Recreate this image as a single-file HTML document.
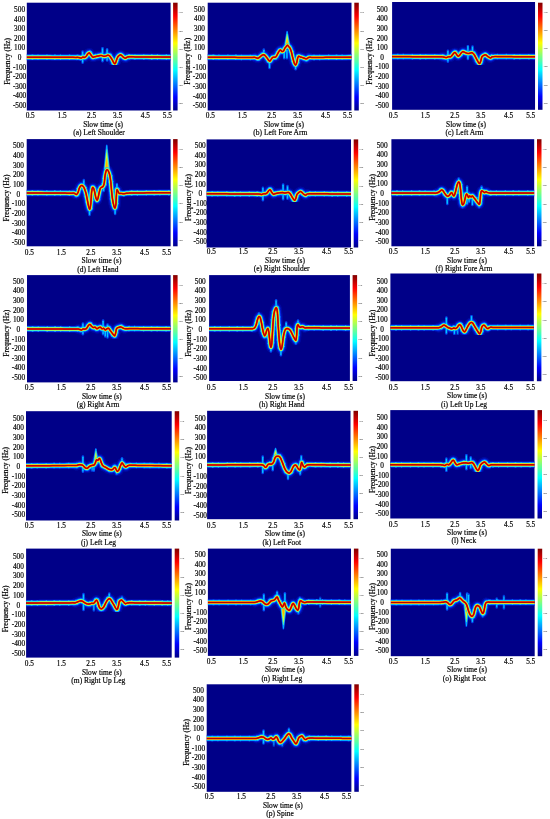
<!DOCTYPE html>
<html lang="en"><head><meta charset="utf-8"><title>Micro-Doppler spectrograms</title>
<style>html,body{margin:0;padding:0;background:#fff}svg{display:block}text{font-family:"Liberation Serif","DejaVu Serif",serif;fill:#000;stroke:#000;stroke-width:.17px}.cb text{fill:#787878;stroke:#787878;stroke-width:.1px;font-size:2.9px;text-anchor:middle}.t text{font-size:7.3px}.yt text{text-anchor:middle}.xt text{text-anchor:middle}.ridge{fill:none;stroke-linecap:round;stroke-linejoin:round}</style></head><body>
<svg width="550" height="819" viewBox="0 0 550 819">
<defs><linearGradient id="jet" x1="0" y1="0" x2="0" y2="1"><stop offset="0" stop-color="#800000"/><stop offset="0.125" stop-color="#ff0000"/><stop offset="0.375" stop-color="#ffff00"/><stop offset="0.5" stop-color="#80ff80"/><stop offset="0.625" stop-color="#00ffff"/><stop offset="0.875" stop-color="#0000ff"/><stop offset="1" stop-color="#000088"/></linearGradient><filter id="bl" x="-5%" y="-5%" width="110%" height="110%"><feGaussianBlur stdDeviation="0.35"/></filter>
<clipPath id="ca"><rect x="26.80" y="2.70" width="143.80" height="107.80"/></clipPath>
<path id="ra" d="M23.8 57.1C24.3 57.1 25.7 57.2 26.7 57.2C27.6 57.2 28.6 57.2 29.6 57.2C30.5 57.2 31.5 57.2 32.4 57.2C33.4 57.2 34.4 57.2 35.3 57.2C36.3 57.2 37.2 57.2 38.2 57.2C39.2 57.2 40.1 57.2 41.1 57.2C42.0 57.2 43.0 57.2 44.0 57.2C44.9 57.2 45.9 57.2 46.9 57.2C47.8 57.2 48.8 57.2 49.7 57.2C50.7 57.3 51.7 57.3 52.6 57.3C53.6 57.3 54.5 57.3 55.5 57.3C56.5 57.3 57.4 57.3 58.4 57.3C59.3 57.3 60.3 57.3 61.3 57.3C62.2 57.3 63.2 57.3 64.1 57.3C65.1 57.3 66.1 57.3 67.0 57.3C68.0 57.3 68.9 57.3 69.9 57.3C70.9 57.3 71.8 57.3 72.8 57.3C73.7 57.3 74.7 57.3 75.7 57.4C76.6 57.4 77.6 57.3 78.5 57.4C79.5 57.5 80.5 57.9 81.3 57.9C82.0 57.9 82.4 57.2 82.9 57.1C83.5 57.1 84.0 57.5 84.5 57.4C85.1 57.2 85.6 56.9 86.2 56.3C86.7 55.7 87.3 54.3 87.8 53.8C88.4 53.2 88.9 52.8 89.5 53.0C90.0 53.2 90.5 54.5 91.1 55.2C91.6 55.9 92.2 56.9 92.7 57.1C93.3 57.4 93.7 57.0 94.4 56.8C95.0 56.7 95.7 56.5 96.5 56.3C97.4 56.1 98.5 55.9 99.3 55.7C100.1 55.6 100.7 55.4 101.5 55.5C102.2 55.6 102.9 56.2 103.6 56.3C104.4 56.4 105.2 56.2 105.8 56.1C106.5 55.9 106.9 55.3 107.5 55.2C108.0 55.1 108.5 55.1 109.1 55.5C109.6 55.9 110.2 56.6 110.7 57.4C111.3 58.1 111.8 59.1 112.4 60.1C112.9 61.1 113.5 62.6 114.0 63.1C114.5 63.7 114.7 63.9 115.1 63.6C115.5 63.3 115.8 62.1 116.2 61.2C116.5 60.2 116.8 58.8 117.3 57.9C117.7 57.0 118.3 56.2 118.9 55.7C119.5 55.2 120.3 54.8 120.9 54.9C121.5 54.9 121.9 55.8 122.4 56.3C122.9 56.7 123.6 57.4 124.1 57.7C124.7 58.0 125.2 58.2 125.7 58.1C126.2 58.0 126.5 57.4 127.1 57.1C127.7 56.9 128.4 56.9 129.3 56.8C130.1 56.8 131.2 56.8 132.2 56.8C133.2 56.8 134.2 56.9 135.2 56.9C136.2 56.9 137.2 56.9 138.1 56.9C139.1 56.9 140.1 56.9 141.1 56.9C142.1 56.9 143.1 56.9 144.0 56.9C145.0 56.9 146.0 56.9 147.0 56.9C148.0 57.0 149.0 57.0 150.0 57.0C150.9 57.0 151.9 57.0 152.9 57.0C153.9 57.0 154.9 57.0 155.9 57.0C156.9 57.0 157.8 57.0 158.8 57.0C159.8 57.0 160.8 57.1 161.8 57.1C162.8 57.1 163.7 57.1 164.7 57.1C165.7 57.1 166.7 57.1 167.7 57.1C168.7 57.1 169.7 57.1 170.6 57.1C171.6 57.1 173.1 57.1 173.6 57.1"/>
<path id="ga" d="M84.5 57.4C84.8 57.2 85.6 56.9 86.2 56.3C86.7 55.7 87.3 54.3 87.8 53.8C88.4 53.2 88.9 52.8 89.5 53.0C90.0 53.2 90.5 54.5 91.1 55.2C91.6 55.9 92.2 56.9 92.7 57.1C93.3 57.4 93.7 57.0 94.4 56.8C95.0 56.7 95.7 56.5 96.5 56.3C97.4 56.1 98.5 55.9 99.3 55.7C100.1 55.6 100.7 55.4 101.5 55.5C102.2 55.6 102.9 56.2 103.6 56.3C104.4 56.4 105.2 56.2 105.8 56.1C106.5 55.9 106.9 55.3 107.5 55.2C108.0 55.1 108.5 55.1 109.1 55.5C109.6 55.9 110.2 56.6 110.7 57.4C111.3 58.1 111.8 59.1 112.4 60.1C112.9 61.1 113.5 62.6 114.0 63.1C114.5 63.7 114.7 63.9 115.1 63.6C115.5 63.3 115.8 62.1 116.2 61.2C116.5 60.2 116.8 58.8 117.3 57.9C117.7 57.0 118.3 56.2 118.9 55.7C119.5 55.2 120.3 54.8 120.9 54.9C121.5 54.9 121.9 55.8 122.4 56.3C122.9 56.7 123.6 57.4 124.1 57.7C124.7 58.0 125.2 58.2 125.7 58.1C126.2 58.0 126.9 57.3 127.1 57.1"/>
<clipPath id="cb"><rect x="207.70" y="2.70" width="143.80" height="107.80"/></clipPath>
<path id="rb" d="M204.7 57.2C205.2 57.2 206.7 57.2 207.7 57.2C208.7 57.2 209.7 57.2 210.6 57.2C211.6 57.2 212.6 57.2 213.6 57.2C214.6 57.3 215.6 57.3 216.6 57.3C217.6 57.3 218.6 57.3 219.6 57.3C220.6 57.3 221.6 57.3 222.5 57.3C223.5 57.3 224.5 57.3 225.5 57.3C226.5 57.3 227.5 57.3 228.5 57.3C229.5 57.3 230.5 57.3 231.5 57.3C232.5 57.3 233.5 57.3 234.4 57.3C235.4 57.3 236.4 57.3 237.4 57.4C238.4 57.4 239.4 57.4 240.4 57.4C241.4 57.4 242.4 57.4 243.4 57.4C244.4 57.4 245.4 57.4 246.3 57.4C247.3 57.4 248.3 57.4 249.3 57.4C250.3 57.4 251.3 57.4 252.3 57.4C253.3 57.4 254.3 57.3 255.3 57.4C256.2 57.6 257.2 58.4 258.0 58.3C258.8 58.2 259.5 57.2 260.2 56.7C260.9 56.1 261.7 55.3 262.4 55.0C263.0 54.7 263.5 54.6 264.0 54.8C264.5 55.0 265.1 55.5 265.6 56.1C266.2 56.7 266.7 57.6 267.3 58.3C267.8 59.0 268.5 60.0 268.9 60.5C269.4 60.9 269.6 61.2 270.0 61.0C270.4 60.8 270.6 60.0 271.1 59.4C271.5 58.8 272.2 57.8 272.7 57.4C273.3 57.1 273.8 57.3 274.4 57.2C274.9 57.1 275.5 57.2 276.0 56.7C276.5 56.1 277.1 54.9 277.6 53.9C278.2 53.0 278.8 51.5 279.3 50.9C279.8 50.2 280.1 50.0 280.6 50.1C281.0 50.2 281.5 51.4 282.0 51.5C282.5 51.7 283.2 51.4 283.6 50.9C284.1 50.4 284.3 49.2 284.7 48.5C285.1 47.8 285.6 47.4 286.0 46.8C286.5 46.3 287.0 45.2 287.5 45.2C287.9 45.2 288.4 46.3 288.9 46.8C289.3 47.4 289.7 47.6 290.2 48.5C290.6 49.4 291.0 50.7 291.5 52.3C291.9 53.9 292.4 56.5 292.9 58.3C293.4 60.1 293.9 62.1 294.3 63.2C294.8 64.3 295.2 65.2 295.6 65.1C296.0 65.0 296.4 63.8 296.7 62.7C297.1 61.5 297.3 59.4 297.6 58.3C297.9 57.2 298.2 56.6 298.7 56.3C299.2 56.1 300.0 56.8 300.5 57.0C301.1 57.2 301.5 57.2 302.2 57.4C302.8 57.6 303.6 58.1 304.4 58.3C305.1 58.5 305.8 59.0 306.5 58.8C307.3 58.7 307.9 57.7 308.7 57.4C309.6 57.2 310.6 57.4 311.6 57.4C312.5 57.4 313.5 57.4 314.4 57.4C315.4 57.4 316.4 57.4 317.3 57.4C318.3 57.4 319.2 57.4 320.2 57.4C321.1 57.4 322.1 57.4 323.0 57.4C324.0 57.4 324.9 57.4 325.9 57.3C326.8 57.3 327.8 57.3 328.8 57.3C329.7 57.3 330.7 57.3 331.6 57.3C332.6 57.3 333.5 57.3 334.5 57.3C335.4 57.3 336.4 57.3 337.3 57.3C338.3 57.3 339.2 57.3 340.2 57.3C341.1 57.3 342.1 57.3 343.1 57.3C344.0 57.3 345.0 57.3 345.9 57.3C346.9 57.2 347.8 57.2 348.8 57.2C349.7 57.2 350.7 57.2 351.6 57.2C352.6 57.2 354.0 57.2 354.5 57.2"/>
<path id="gb" d="M255.3 57.4C255.7 57.6 257.2 58.4 258.0 58.3C258.8 58.2 259.5 57.2 260.2 56.7C260.9 56.1 261.7 55.3 262.4 55.0C263.0 54.7 263.5 54.6 264.0 54.8C264.5 55.0 265.1 55.5 265.6 56.1C266.2 56.7 266.7 57.6 267.3 58.3C267.8 59.0 268.5 60.0 268.9 60.5C269.4 60.9 269.6 61.2 270.0 61.0C270.4 60.8 270.6 60.0 271.1 59.4C271.5 58.8 272.2 57.8 272.7 57.4C273.3 57.1 273.8 57.3 274.4 57.2C274.9 57.1 275.5 57.2 276.0 56.7C276.5 56.1 277.1 54.9 277.6 53.9C278.2 53.0 278.8 51.5 279.3 50.9C279.8 50.2 280.1 50.0 280.6 50.1C281.0 50.2 281.5 51.4 282.0 51.5C282.5 51.7 283.2 51.4 283.6 50.9C284.1 50.4 284.3 49.2 284.7 48.5C285.1 47.8 285.6 47.4 286.0 46.8C286.5 46.3 287.0 45.2 287.5 45.2C287.9 45.2 288.4 46.3 288.9 46.8C289.3 47.4 289.7 47.6 290.2 48.5C290.6 49.4 291.0 50.7 291.5 52.3C291.9 53.9 292.4 56.5 292.9 58.3C293.4 60.1 293.9 62.1 294.3 63.2C294.8 64.3 295.2 65.2 295.6 65.1C296.0 65.0 296.4 63.8 296.7 62.7C297.1 61.5 297.3 59.4 297.6 58.3C297.9 57.2 298.2 56.6 298.7 56.3C299.2 56.1 300.0 56.8 300.5 57.0C301.1 57.2 301.5 57.2 302.2 57.4C302.8 57.6 303.6 58.1 304.4 58.3C305.1 58.5 305.8 59.0 306.5 58.8C307.3 58.7 308.4 57.7 308.7 57.4"/>
<clipPath id="cc"><rect x="392.10" y="2.00" width="142.95" height="107.80"/></clipPath>
<path id="rc" d="M389.1 56.6C389.6 56.6 391.1 56.6 392.1 56.6C393.1 56.6 394.0 56.6 395.0 56.6C396.0 56.6 397.0 56.6 398.0 56.6C399.0 56.6 400.0 56.6 401.0 56.6C401.9 56.6 402.9 56.6 403.9 56.6C404.9 56.6 405.9 56.6 406.9 56.6C407.9 56.6 408.9 56.6 409.8 56.6C410.8 56.6 411.8 56.6 412.8 56.7C413.8 56.7 414.8 56.7 415.8 56.7C416.8 56.7 417.8 56.7 418.7 56.7C419.7 56.7 420.7 56.7 421.7 56.7C422.7 56.7 423.7 56.7 424.7 56.7C425.7 56.7 426.6 56.7 427.6 56.7C428.6 56.7 429.6 56.7 430.6 56.7C431.6 56.7 432.6 56.7 433.6 56.7C434.6 56.7 435.5 56.7 436.5 56.7C437.5 56.8 438.5 56.8 439.5 56.8C440.5 56.8 441.6 56.7 442.5 56.8C443.3 56.8 443.7 57.1 444.4 57.2C445.0 57.4 445.6 57.7 446.3 57.6C447.0 57.6 447.7 56.9 448.5 56.8C449.2 56.6 450.0 57.0 450.6 56.8C451.3 56.5 451.7 55.8 452.3 55.1C452.8 54.5 453.4 53.4 453.9 53.0C454.4 52.6 454.8 52.4 455.3 52.7C455.8 53.1 456.4 54.3 456.9 54.9C457.3 55.5 457.8 56.2 458.3 56.2C458.7 56.3 459.2 55.7 459.7 55.1C460.2 54.6 460.7 53.5 461.2 53.0C461.8 52.4 462.4 51.7 463.0 51.6C463.6 51.6 464.2 52.2 464.8 52.4C465.4 52.7 466.0 53.0 466.7 53.2C467.3 53.4 468.0 53.5 468.6 53.5C469.2 53.5 469.7 53.1 470.3 53.0C470.9 52.8 471.5 52.5 472.1 52.7C472.7 53.0 473.3 53.6 473.9 54.3C474.4 54.9 474.9 55.8 475.4 56.8C475.9 57.7 476.6 59.0 477.1 60.0C477.7 61.0 478.2 62.2 478.7 62.8C479.1 63.3 479.4 63.7 479.8 63.3C480.1 63.0 480.5 61.7 480.9 60.6C481.2 59.5 481.5 57.6 481.9 56.8C482.4 55.9 483.0 55.7 483.7 55.4C484.3 55.0 485.3 54.8 485.9 54.9C486.5 55.1 486.9 55.8 487.4 56.2C487.9 56.6 488.6 57.0 489.1 57.3C489.7 57.6 490.2 58.0 490.7 57.9C491.2 57.8 491.5 57.0 492.1 56.8C492.7 56.6 493.4 56.6 494.3 56.6C495.1 56.5 496.2 56.6 497.2 56.6C498.2 56.6 499.1 56.6 500.1 56.6C501.1 56.6 502.1 56.6 503.0 56.6C504.0 56.6 505.0 56.6 505.9 56.6C506.9 56.6 507.9 56.6 508.9 56.6C509.8 56.6 510.8 56.6 511.8 56.6C512.8 56.6 513.7 56.7 514.7 56.7C515.7 56.7 516.6 56.7 517.6 56.7C518.6 56.7 519.6 56.7 520.5 56.7C521.5 56.7 522.5 56.7 523.5 56.7C524.4 56.7 525.4 56.7 526.4 56.7C527.3 56.7 528.3 56.7 529.3 56.7C530.3 56.7 531.2 56.7 532.2 56.7C533.2 56.7 534.2 56.8 535.1 56.8C536.1 56.8 537.6 56.8 538.0 56.8"/>
<path id="gc" d="M442.5 56.8C442.8 56.8 443.7 57.1 444.4 57.2C445.0 57.4 445.6 57.7 446.3 57.6C447.0 57.6 447.7 56.9 448.5 56.8C449.2 56.6 450.0 57.0 450.6 56.8C451.3 56.5 451.7 55.8 452.3 55.1C452.8 54.5 453.4 53.4 453.9 53.0C454.4 52.6 454.8 52.4 455.3 52.7C455.8 53.1 456.4 54.3 456.9 54.9C457.3 55.5 457.8 56.2 458.3 56.2C458.7 56.3 459.2 55.7 459.7 55.1C460.2 54.6 460.7 53.5 461.2 53.0C461.8 52.4 462.4 51.7 463.0 51.6C463.6 51.6 464.2 52.2 464.8 52.4C465.4 52.7 466.0 53.0 466.7 53.2C467.3 53.4 468.0 53.5 468.6 53.5C469.2 53.5 469.7 53.1 470.3 53.0C470.9 52.8 471.5 52.5 472.1 52.7C472.7 53.0 473.3 53.6 473.9 54.3C474.4 54.9 474.9 55.8 475.4 56.8C475.9 57.7 476.6 59.0 477.1 60.0C477.7 61.0 478.2 62.2 478.7 62.8C479.1 63.3 479.4 63.7 479.8 63.3C480.1 63.0 480.5 61.7 480.9 60.6C481.2 59.5 481.5 57.6 481.9 56.8C482.4 55.9 483.0 55.7 483.7 55.4C484.3 55.0 485.3 54.8 485.9 54.9C486.5 55.1 486.9 55.8 487.4 56.2C487.9 56.6 488.6 57.0 489.1 57.3C489.7 57.6 490.2 58.0 490.7 57.9C491.2 57.8 491.9 57.0 492.1 56.8"/>
<clipPath id="cd"><rect x="26.70" y="139.10" width="143.90" height="107.20"/></clipPath>
<path id="rd" d="M23.7 193.0C24.2 193.0 25.7 193.0 26.7 193.0C27.7 193.0 28.6 193.0 29.6 193.0C30.6 193.0 31.6 193.0 32.6 193.0C33.6 193.0 34.6 193.0 35.6 193.0C36.6 193.0 37.6 193.0 38.5 193.0C39.5 193.0 40.5 193.0 41.5 193.0C42.5 193.0 43.5 193.0 44.5 193.1C45.5 193.1 46.5 193.1 47.5 193.1C48.4 193.1 49.4 193.1 50.4 193.1C51.4 193.1 52.4 193.1 53.4 193.1C54.4 193.1 55.4 193.1 56.4 193.1C57.4 193.1 58.3 193.1 59.3 193.1C60.3 193.1 61.3 193.1 62.3 193.1C63.3 193.1 64.3 193.1 65.3 193.1C66.3 193.1 67.3 193.2 68.2 193.2C69.2 193.2 70.2 193.2 71.2 193.2C72.2 193.2 73.3 193.0 74.2 193.2C75.0 193.4 75.7 194.6 76.4 194.5C77.0 194.4 77.5 193.6 78.0 192.6C78.5 191.7 78.7 189.9 79.1 188.8C79.5 187.7 80.0 186.6 80.5 186.1C81.0 185.5 81.5 185.4 82.0 185.5C82.6 185.7 83.2 186.3 83.8 187.2C84.3 188.1 84.8 189.5 85.3 191.0C85.8 192.5 86.3 194.3 86.7 196.5C87.2 198.6 87.7 202.0 88.1 204.1C88.6 206.2 89.1 208.5 89.5 209.0C89.8 209.5 90.1 208.9 90.3 207.4C90.6 205.8 90.9 202.3 91.1 199.7C91.3 197.2 91.4 194.1 91.6 192.1C91.9 190.1 92.2 188.4 92.5 187.7C92.8 187.1 93.2 187.5 93.6 188.3C94.0 189.0 94.3 190.5 94.7 192.1C95.1 193.6 95.4 196.2 95.8 197.5C96.2 198.9 96.7 200.3 97.1 200.3C97.5 200.3 97.8 198.9 98.2 197.5C98.5 196.2 98.9 193.6 99.3 192.1C99.6 190.5 100.0 189.1 100.4 188.3C100.8 187.5 101.2 187.5 101.7 187.2C102.1 186.9 102.7 187.1 103.1 186.4C103.5 185.8 103.9 185.0 104.2 183.4C104.5 181.8 104.7 178.7 104.9 176.8C105.2 174.9 105.5 173.1 105.8 171.9C106.1 170.7 106.5 169.9 106.9 169.7C107.3 169.5 107.8 170.0 108.2 170.8C108.7 171.6 109.2 172.9 109.6 174.6C110.1 176.4 110.4 178.6 110.7 181.2C111.0 183.7 111.2 186.8 111.5 189.9C111.8 193.0 112.2 197.0 112.6 199.7C113.0 202.5 113.6 204.9 114.0 206.3C114.4 207.6 114.8 208.3 115.1 207.9C115.4 207.5 115.6 206.2 115.9 204.1C116.1 202.0 116.2 197.7 116.4 195.4C116.6 193.0 116.7 190.6 116.9 189.9C117.2 189.2 117.5 190.4 117.8 191.0C118.2 191.6 118.6 193.0 119.1 193.4C119.7 193.8 120.3 193.3 121.1 193.4C121.9 193.5 122.9 193.8 123.8 193.7C124.7 193.7 125.6 193.3 126.5 193.2C127.5 193.1 128.3 193.0 129.3 193.0C130.2 192.9 131.2 192.9 132.2 192.9C133.2 192.9 134.2 192.9 135.2 192.9C136.2 192.9 137.2 192.9 138.1 192.9C139.1 192.9 140.1 192.9 141.1 192.9C142.1 192.9 143.1 192.9 144.0 192.9C145.0 192.8 146.0 192.8 147.0 192.8C148.0 192.8 149.0 192.8 150.0 192.8C150.9 192.8 151.9 192.8 152.9 192.8C153.9 192.8 154.9 192.8 155.9 192.8C156.9 192.8 157.8 192.8 158.8 192.7C159.8 192.7 160.8 192.7 161.8 192.7C162.8 192.7 163.7 192.7 164.7 192.7C165.7 192.7 166.7 192.7 167.7 192.7C168.7 192.7 169.7 192.7 170.6 192.7C171.6 192.7 173.1 192.6 173.6 192.6"/>
<path id="gd" d="M74.2 193.2C74.5 193.4 75.7 194.6 76.4 194.5C77.0 194.4 77.5 193.6 78.0 192.6C78.5 191.7 78.7 189.9 79.1 188.8C79.5 187.7 80.0 186.6 80.5 186.1C81.0 185.5 81.5 185.4 82.0 185.5C82.6 185.7 83.2 186.3 83.8 187.2C84.3 188.1 84.8 189.5 85.3 191.0C85.8 192.5 86.3 194.3 86.7 196.5C87.2 198.6 87.7 202.0 88.1 204.1C88.6 206.2 89.1 208.5 89.5 209.0C89.8 209.5 90.1 208.9 90.3 207.4C90.6 205.8 90.9 202.3 91.1 199.7C91.3 197.2 91.4 194.1 91.6 192.1C91.9 190.1 92.2 188.4 92.5 187.7C92.8 187.1 93.2 187.5 93.6 188.3C94.0 189.0 94.3 190.5 94.7 192.1C95.1 193.6 95.4 196.2 95.8 197.5C96.2 198.9 96.7 200.3 97.1 200.3C97.5 200.3 97.8 198.9 98.2 197.5C98.5 196.2 98.9 193.6 99.3 192.1C99.6 190.5 100.0 189.1 100.4 188.3C100.8 187.5 101.2 187.5 101.7 187.2C102.1 186.9 102.7 187.1 103.1 186.4C103.5 185.8 103.9 185.0 104.2 183.4C104.5 181.8 104.7 178.7 104.9 176.8C105.2 174.9 105.5 173.1 105.8 171.9C106.1 170.7 106.5 169.9 106.9 169.7C107.3 169.5 107.8 170.0 108.2 170.8C108.7 171.6 109.2 172.9 109.6 174.6C110.1 176.4 110.4 178.6 110.7 181.2C111.0 183.7 111.2 186.8 111.5 189.9C111.8 193.0 112.2 197.0 112.6 199.7C113.0 202.5 113.6 204.9 114.0 206.3C114.4 207.6 114.8 208.3 115.1 207.9C115.4 207.5 115.6 206.2 115.9 204.1C116.1 202.0 116.2 197.7 116.4 195.4C116.6 193.0 116.7 190.6 116.9 189.9C117.2 189.2 117.5 190.4 117.8 191.0C118.2 191.6 118.9 193.0 119.1 193.4"/>
<clipPath id="ce"><rect x="206.60" y="139.40" width="144.40" height="108.10"/></clipPath>
<path id="re" d="M203.6 193.8C204.1 193.8 205.5 193.8 206.5 193.8C207.5 193.8 208.4 193.8 209.4 193.8C210.3 193.8 211.3 193.8 212.3 193.8C213.2 193.8 214.2 193.8 215.2 193.8C216.1 193.8 217.1 193.8 218.1 193.8C219.0 193.8 220.0 193.8 221.0 193.8C221.9 193.8 222.9 193.8 223.8 193.8C224.8 193.8 225.8 193.8 226.7 193.8C227.7 193.9 228.7 193.9 229.6 193.9C230.6 193.9 231.6 193.9 232.5 193.9C233.5 193.9 234.4 193.9 235.4 193.9C236.4 193.9 237.3 193.9 238.3 193.9C239.3 193.9 240.2 193.9 241.2 193.9C242.2 193.9 243.1 193.9 244.1 193.9C245.1 193.9 246.0 193.9 247.0 193.9C247.9 193.9 248.9 193.9 249.9 193.9C250.8 193.9 251.8 193.9 252.8 193.9C253.7 194.0 254.7 194.0 255.7 194.0C256.6 194.0 257.8 193.9 258.5 194.0C259.3 194.0 259.6 194.2 260.2 194.2C260.7 194.3 261.3 194.6 261.8 194.5C262.4 194.4 262.8 193.9 263.5 193.8C264.1 193.6 265.0 193.9 265.6 193.8C266.3 193.6 266.7 193.2 267.3 192.7C267.8 192.1 268.4 190.9 268.9 190.5C269.4 190.0 269.9 189.7 270.3 189.9C270.8 190.2 271.1 191.4 271.6 192.1C272.1 192.8 272.7 193.8 273.3 194.1C273.8 194.4 274.3 193.9 274.9 193.8C275.5 193.6 276.3 193.4 277.1 193.2C277.9 193.0 278.9 192.8 279.8 192.7C280.7 192.5 281.7 192.4 282.5 192.4C283.4 192.5 284.0 193.0 284.7 193.0C285.4 193.0 286.1 192.8 286.7 192.7C287.3 192.6 288.0 192.3 288.5 192.4C289.1 192.6 289.6 193.1 290.2 193.8C290.7 194.4 291.3 195.6 291.8 196.5C292.4 197.4 293.0 198.6 293.5 199.2C293.9 199.8 294.4 200.5 294.8 200.3C295.2 200.1 295.5 199.1 295.9 198.1C296.2 197.2 296.5 195.4 296.9 194.5C297.4 193.6 298.0 193.2 298.7 192.7C299.3 192.2 300.3 191.5 300.9 191.6C301.5 191.6 301.9 192.5 302.4 193.0C302.9 193.5 303.6 194.2 304.1 194.5C304.7 194.9 305.2 195.2 305.7 195.2C306.2 195.1 306.5 194.3 307.1 194.1C307.7 193.8 308.4 193.8 309.3 193.8C310.1 193.7 311.3 193.8 312.3 193.8C313.2 193.8 314.2 193.8 315.2 193.8C316.2 193.8 317.2 193.8 318.2 193.8C319.2 193.8 320.2 193.8 321.2 193.8C322.2 193.8 323.2 193.8 324.2 193.8C325.2 193.8 326.2 193.8 327.2 193.8C328.2 193.8 329.2 193.9 330.1 193.9C331.1 193.9 332.1 193.9 333.1 193.9C334.1 193.9 335.1 193.9 336.1 193.9C337.1 193.9 338.1 193.9 339.1 193.9C340.1 193.9 341.1 193.9 342.1 193.9C343.1 193.9 344.1 193.9 345.1 193.9C346.0 193.9 347.0 193.9 348.0 193.9C349.0 193.9 350.0 194.0 351.0 194.0C352.0 194.0 353.5 194.0 354.0 194.0"/>
<path id="ge" d="M265.6 193.8C265.9 193.6 266.7 193.2 267.3 192.7C267.8 192.1 268.4 190.9 268.9 190.5C269.4 190.0 269.9 189.7 270.3 189.9C270.8 190.2 271.1 191.4 271.6 192.1C272.1 192.8 272.7 193.8 273.3 194.1C273.8 194.4 274.3 193.9 274.9 193.8C275.5 193.6 276.3 193.4 277.1 193.2C277.9 193.0 278.9 192.8 279.8 192.7C280.7 192.5 281.7 192.4 282.5 192.4C283.4 192.5 284.0 193.0 284.7 193.0C285.4 193.0 286.1 192.8 286.7 192.7C287.3 192.6 288.0 192.3 288.5 192.4C289.1 192.6 289.6 193.1 290.2 193.8C290.7 194.4 291.3 195.6 291.8 196.5C292.4 197.4 293.0 198.6 293.5 199.2C293.9 199.8 294.4 200.5 294.8 200.3C295.2 200.1 295.5 199.1 295.9 198.1C296.2 197.2 296.5 195.4 296.9 194.5C297.4 193.6 298.0 193.2 298.7 192.7C299.3 192.2 300.3 191.5 300.9 191.6C301.5 191.6 301.9 192.5 302.4 193.0C302.9 193.5 303.6 194.2 304.1 194.5C304.7 194.9 305.2 195.2 305.7 195.2C306.2 195.1 306.9 194.3 307.1 194.1"/>
<clipPath id="cf"><rect x="391.40" y="139.20" width="142.80" height="107.10"/></clipPath>
<path id="rf" d="M388.4 193.1C388.9 193.1 390.4 193.1 391.4 193.1C392.4 193.1 393.4 193.1 394.4 193.1C395.4 193.1 396.4 193.1 397.4 193.1C398.4 193.1 399.4 193.1 400.4 193.1C401.4 193.1 402.4 193.1 403.4 193.1C404.4 193.1 405.4 193.1 406.4 193.1C407.4 193.1 408.4 193.1 409.4 193.1C410.4 193.1 411.4 193.1 412.4 193.1C413.4 193.1 414.4 193.1 415.4 193.1C416.4 193.1 417.4 193.1 418.4 193.1C419.4 193.1 420.4 193.1 421.4 193.1C422.4 193.1 423.4 193.1 424.4 193.1C425.4 193.1 426.4 193.1 427.4 193.1C428.4 193.1 429.4 193.1 430.4 193.1C431.4 193.1 432.4 193.1 433.4 193.1C434.4 193.1 435.4 193.3 436.4 193.1C437.3 192.9 438.3 192.5 439.1 192.0C439.9 191.5 440.7 190.3 441.3 190.1C441.9 189.8 442.2 190.0 442.7 190.4C443.2 190.8 443.7 191.8 444.2 192.6C444.8 193.4 445.4 194.5 446.0 195.1C446.6 195.7 447.2 196.2 447.8 196.2C448.4 196.2 449.0 195.6 449.5 195.1C449.9 194.6 450.4 193.5 450.8 193.1C451.2 192.8 451.5 192.6 451.9 192.9C452.2 193.2 452.6 194.3 452.9 194.8C453.3 195.3 453.7 196.1 454.0 195.9C454.4 195.6 454.8 194.3 455.1 193.1C455.5 191.9 455.9 190.2 456.2 188.8C456.6 187.3 456.9 185.5 457.3 184.4C457.7 183.3 458.3 182.1 458.7 182.0C459.1 181.9 459.5 182.5 459.8 183.9C460.1 185.2 460.3 187.6 460.6 189.9C460.8 192.1 461.0 195.2 461.2 197.5C461.5 199.8 461.7 202.3 462.0 203.5C462.3 204.7 462.7 204.8 463.1 204.6C463.5 204.4 463.8 203.6 464.2 202.4C464.5 201.2 464.9 198.9 465.3 197.5C465.6 196.1 466.0 194.6 466.4 194.2C466.7 193.8 467.1 194.5 467.5 195.1C467.8 195.6 468.2 197.4 468.5 197.5C468.9 197.6 469.2 195.9 469.6 195.9C470.1 195.8 470.6 196.9 471.1 196.9C471.5 196.9 471.9 195.8 472.4 195.9C472.8 195.9 473.2 196.9 473.7 197.5C474.1 198.0 474.6 198.5 475.1 199.1C475.6 199.8 476.2 200.6 476.7 201.3C477.3 202.0 477.9 203.0 478.4 203.5C478.8 203.9 479.1 204.7 479.5 204.0C479.8 203.4 480.0 201.5 480.2 199.7C480.4 197.9 480.5 194.6 480.8 193.1C481.0 191.7 481.3 191.2 481.6 190.9C482.0 190.7 482.6 191.2 483.1 191.5C483.5 191.8 483.9 192.5 484.4 192.6C484.9 192.6 485.5 191.8 486.0 191.8C486.5 191.8 487.0 192.4 487.6 192.6C488.3 192.8 489.0 193.0 489.8 193.1C490.7 193.2 491.8 193.1 492.8 193.1C493.8 193.1 494.8 193.1 495.7 193.1C496.7 193.1 497.7 193.1 498.7 193.1C499.7 193.1 500.7 193.1 501.7 193.1C502.7 193.1 503.6 193.1 504.6 193.1C505.6 193.1 506.6 193.1 507.6 193.1C508.6 193.1 509.6 193.1 510.5 193.1C511.5 193.1 512.5 193.1 513.5 193.1C514.5 193.1 515.5 193.1 516.5 193.1C517.5 193.1 518.4 193.1 519.4 193.1C520.4 193.1 521.4 193.1 522.4 193.1C523.4 193.1 524.4 193.1 525.4 193.1C526.3 193.1 527.3 193.1 528.3 193.1C529.3 193.1 530.3 193.1 531.3 193.1C532.3 193.1 533.3 193.1 534.2 193.1C535.2 193.1 536.7 193.1 537.2 193.1"/>
<path id="gf" d="M436.4 193.1C436.8 192.9 438.3 192.5 439.1 192.0C439.9 191.5 440.7 190.3 441.3 190.1C441.9 189.8 442.2 190.0 442.7 190.4C443.2 190.8 443.7 191.8 444.2 192.6C444.8 193.4 445.4 194.5 446.0 195.1C446.6 195.7 447.2 196.2 447.8 196.2C448.4 196.2 449.0 195.6 449.5 195.1C449.9 194.6 450.4 193.5 450.8 193.1C451.2 192.8 451.5 192.6 451.9 192.9C452.2 193.2 452.6 194.3 452.9 194.8C453.3 195.3 453.7 196.1 454.0 195.9C454.4 195.6 454.8 194.3 455.1 193.1C455.5 191.9 455.9 190.2 456.2 188.8C456.6 187.3 456.9 185.5 457.3 184.4C457.7 183.3 458.3 182.1 458.7 182.0C459.1 181.9 459.5 182.5 459.8 183.9C460.1 185.2 460.3 187.6 460.6 189.9C460.8 192.1 461.0 195.2 461.2 197.5C461.5 199.8 461.7 202.3 462.0 203.5C462.3 204.7 462.7 204.8 463.1 204.6C463.5 204.4 463.8 203.6 464.2 202.4C464.5 201.2 464.9 198.9 465.3 197.5C465.6 196.1 466.0 194.6 466.4 194.2C466.7 193.8 467.1 194.5 467.5 195.1C467.8 195.6 468.2 197.4 468.5 197.5C468.9 197.6 469.2 195.9 469.6 195.9C470.1 195.8 470.6 196.9 471.1 196.9C471.5 196.9 471.9 195.8 472.4 195.9C472.8 195.9 473.2 196.9 473.7 197.5C474.1 198.0 474.6 198.5 475.1 199.1C475.6 199.8 476.2 200.6 476.7 201.3C477.3 202.0 477.9 203.0 478.4 203.5C478.8 203.9 479.1 204.7 479.5 204.0C479.8 203.4 480.0 201.5 480.2 199.7C480.4 197.9 480.5 194.6 480.8 193.1C481.0 191.7 481.3 191.2 481.6 190.9C482.0 190.7 482.6 191.2 483.1 191.5C483.5 191.8 483.9 192.5 484.4 192.6C484.9 192.6 485.5 191.8 486.0 191.8C486.5 191.8 487.4 192.5 487.6 192.6"/>
<clipPath id="cg"><rect x="27.00" y="275.10" width="143.60" height="107.30"/></clipPath>
<path id="rg" d="M24.0 328.8C24.5 328.8 25.9 328.8 26.9 328.8C27.8 328.8 28.8 328.8 29.7 328.9C30.7 328.9 31.7 328.9 32.6 328.9C33.6 328.9 34.5 328.9 35.5 328.9C36.4 328.9 37.4 328.9 38.4 328.9C39.3 328.9 40.3 328.9 41.2 328.9C42.2 328.9 43.1 328.9 44.1 328.9C45.1 328.9 46.0 329.0 47.0 329.0C47.9 329.0 48.9 329.0 49.8 329.0C50.8 329.0 51.8 329.0 52.7 329.0C53.7 329.0 54.6 329.0 55.6 329.0C56.5 329.0 57.5 329.0 58.4 329.0C59.4 329.0 60.4 329.0 61.3 329.0C62.3 329.0 63.2 329.1 64.2 329.1C65.1 329.1 66.1 329.1 67.1 329.1C68.0 329.1 69.0 329.1 69.9 329.1C70.9 329.1 71.8 329.1 72.8 329.1C73.8 329.1 74.7 329.1 75.7 329.1C76.6 329.1 77.6 329.0 78.5 329.1C79.5 329.3 80.5 329.9 81.3 329.9C82.0 329.9 82.3 329.3 82.9 329.1C83.5 329.0 84.5 329.3 85.1 329.1C85.7 329.0 86.2 328.9 86.7 328.3C87.3 327.7 87.8 326.2 88.4 325.5C88.9 324.9 89.5 324.4 90.0 324.5C90.5 324.5 90.9 325.6 91.4 326.1C92.0 326.6 92.7 327.3 93.3 327.5C93.9 327.7 94.5 327.0 95.1 327.2C95.7 327.4 96.3 328.7 96.9 328.8C97.5 328.9 98.1 328.0 98.7 327.7C99.3 327.5 99.8 327.0 100.4 327.2C100.9 327.4 101.5 328.6 102.0 328.8C102.5 329.0 103.1 328.1 103.6 328.3C104.2 328.5 104.7 329.8 105.3 329.9C105.8 330.0 106.4 329.1 106.9 328.8C107.5 328.5 108.0 328.0 108.5 328.3C109.1 328.5 109.6 329.7 110.2 330.5C110.7 331.2 111.3 331.9 111.8 332.6C112.4 333.4 113.0 334.3 113.5 334.8C113.9 335.3 114.4 335.9 114.8 335.6C115.1 335.3 115.3 334.3 115.6 333.2C115.9 332.1 116.1 329.8 116.5 328.8C117.0 327.9 117.6 327.8 118.4 327.5C119.1 327.2 120.2 326.8 120.9 326.9C121.5 326.9 121.8 327.4 122.4 327.7C123.0 328.0 123.7 328.4 124.4 328.6C125.1 328.8 125.7 328.8 126.5 328.8C127.4 328.8 128.3 328.6 129.3 328.6C130.2 328.6 131.2 328.6 132.2 328.6C133.2 328.6 134.2 328.6 135.2 328.6C136.2 328.6 137.2 328.6 138.1 328.6C139.1 328.6 140.1 328.7 141.1 328.7C142.1 328.7 143.1 328.7 144.0 328.7C145.0 328.7 146.0 328.7 147.0 328.7C148.0 328.7 149.0 328.7 150.0 328.7C150.9 328.7 151.9 328.7 152.9 328.7C153.9 328.7 154.9 328.7 155.9 328.7C156.9 328.7 157.8 328.7 158.8 328.7C159.8 328.8 160.8 328.8 161.8 328.8C162.8 328.8 163.7 328.8 164.7 328.8C165.7 328.8 166.7 328.8 167.7 328.8C168.7 328.8 169.7 328.8 170.6 328.8C171.6 328.8 173.1 328.8 173.6 328.8"/>
<path id="gg" d="M78.5 329.1C79.0 329.3 80.5 329.9 81.3 329.9C82.0 329.9 82.3 329.3 82.9 329.1C83.5 329.0 84.5 329.3 85.1 329.1C85.7 329.0 86.2 328.9 86.7 328.3C87.3 327.7 87.8 326.2 88.4 325.5C88.9 324.9 89.5 324.4 90.0 324.5C90.5 324.5 90.9 325.6 91.4 326.1C92.0 326.6 92.7 327.3 93.3 327.5C93.9 327.7 94.5 327.0 95.1 327.2C95.7 327.4 96.3 328.7 96.9 328.8C97.5 328.9 98.1 328.0 98.7 327.7C99.3 327.5 99.8 327.0 100.4 327.2C100.9 327.4 101.5 328.6 102.0 328.8C102.5 329.0 103.1 328.1 103.6 328.3C104.2 328.5 104.7 329.8 105.3 329.9C105.8 330.0 106.4 329.1 106.9 328.8C107.5 328.5 108.0 328.0 108.5 328.3C109.1 328.5 109.6 329.7 110.2 330.5C110.7 331.2 111.3 331.9 111.8 332.6C112.4 333.4 113.0 334.3 113.5 334.8C113.9 335.3 114.4 335.9 114.8 335.6C115.1 335.3 115.3 334.3 115.6 333.2C115.9 332.1 116.1 329.8 116.5 328.8C117.0 327.9 117.6 327.8 118.4 327.5C119.1 327.2 120.2 326.8 120.9 326.9C121.5 326.9 121.8 327.4 122.4 327.7C123.0 328.0 124.0 328.5 124.4 328.6"/>
<clipPath id="ch"><rect x="209.10" y="275.10" width="140.80" height="105.90"/></clipPath>
<path id="rh" d="M206.1 328.8C206.6 328.8 208.0 328.8 209.0 328.8C209.9 328.8 210.9 328.8 211.8 328.8C212.8 328.8 213.7 328.8 214.7 328.8C215.6 328.8 216.6 328.8 217.5 328.8C218.5 328.8 219.4 328.8 220.4 328.8C221.3 328.8 222.3 328.8 223.2 328.8C224.2 328.8 225.1 328.8 226.1 328.8C227.1 328.8 228.0 328.8 229.0 328.8C229.9 328.8 230.9 328.8 231.8 328.8C232.8 328.8 233.7 328.8 234.7 328.8C235.6 328.8 236.6 328.8 237.5 328.8C238.5 328.8 239.4 328.8 240.4 328.8C241.3 328.8 242.3 328.8 243.2 328.8C244.2 328.8 245.2 328.8 246.1 328.8C247.1 328.8 248.0 328.8 249.0 328.8C249.9 328.8 250.9 328.9 251.8 328.8C252.7 328.6 253.8 328.7 254.5 328.0C255.3 327.3 255.7 326.2 256.2 324.7C256.7 323.3 257.1 320.6 257.6 319.3C258.1 317.9 258.5 316.8 258.9 316.5C259.3 316.3 259.8 316.7 260.2 317.6C260.6 318.5 260.9 320.3 261.3 322.0C261.7 323.7 262.0 326.2 262.4 328.0C262.8 329.8 263.1 331.6 263.5 332.9C263.9 334.2 264.2 335.5 264.6 335.6C264.9 335.8 265.3 334.9 265.7 334.0C266.0 333.1 266.4 331.1 266.8 330.2C267.1 329.3 267.5 328.4 267.9 328.5C268.2 328.7 268.4 329.5 268.7 331.3C269.0 333.0 269.3 336.5 269.6 338.9C269.9 341.3 270.1 344.1 270.4 345.5C270.6 346.8 270.9 347.5 271.1 347.1C271.4 346.7 271.6 345.5 271.8 343.3C272.0 341.0 272.2 336.9 272.4 333.5C272.7 330.0 272.8 325.8 273.1 322.5C273.3 319.3 273.6 316.0 274.0 313.8C274.3 311.6 274.7 310.5 275.1 309.5C275.4 308.5 275.8 307.8 276.1 307.8C276.5 307.8 276.8 308.1 277.0 309.5C277.3 310.8 277.5 313.1 277.7 316.0C277.9 318.9 278.1 323.3 278.3 326.9C278.6 330.5 278.8 334.7 279.1 337.8C279.3 340.9 279.5 343.5 279.9 345.5C280.2 347.4 280.6 349.1 280.9 349.3C281.3 349.5 281.7 348.1 282.0 346.5C282.4 345.0 282.6 342.2 282.9 340.0C283.2 337.8 283.6 335.2 284.0 333.5C284.4 331.7 284.8 330.5 285.3 329.6C285.8 328.8 286.5 328.6 287.1 328.5C287.7 328.5 288.3 328.7 288.9 329.1C289.5 329.5 290.0 329.9 290.5 330.7C291.1 331.5 291.6 332.9 292.2 334.0C292.7 335.1 293.3 336.4 293.8 337.3C294.3 338.2 294.8 339.0 295.1 339.5C295.5 339.9 295.7 340.8 296.0 340.0C296.3 339.2 296.5 336.7 296.7 334.5C296.8 332.4 296.9 328.5 297.1 326.9C297.3 325.3 297.6 324.7 298.0 324.7C298.3 324.7 298.8 326.5 299.3 326.9C299.8 327.3 300.4 327.2 300.9 327.1C301.5 327.1 301.9 326.6 302.5 326.7C303.2 326.8 303.9 327.6 304.7 327.8C305.6 328.0 306.6 327.8 307.6 327.8C308.5 327.8 309.5 327.8 310.4 327.8C311.3 327.8 312.3 327.8 313.2 327.8C314.2 327.8 315.1 327.8 316.1 327.8C317.0 327.8 318.0 327.8 318.9 327.8C319.8 327.9 320.8 327.9 321.7 327.9C322.7 327.9 323.6 327.9 324.6 327.9C325.5 327.9 326.5 327.9 327.4 327.9C328.3 327.9 329.3 327.9 330.2 327.9C331.2 327.9 332.1 327.9 333.1 327.9C334.0 327.9 335.0 327.9 335.9 327.9C336.8 327.9 337.8 327.9 338.7 327.9C339.7 327.9 340.6 327.9 341.6 327.9C342.5 328.0 343.5 328.0 344.4 328.0C345.3 328.0 346.3 328.0 347.2 328.0C348.2 328.0 349.1 328.0 350.1 328.0C351.0 328.0 352.4 328.0 352.9 328.0"/>
<path id="gh" d="M254.5 328.0C254.8 327.5 255.7 326.2 256.2 324.7C256.7 323.3 257.1 320.6 257.6 319.3C258.1 317.9 258.5 316.8 258.9 316.5C259.3 316.3 259.8 316.7 260.2 317.6C260.6 318.5 260.9 320.3 261.3 322.0C261.7 323.7 262.0 326.2 262.4 328.0C262.8 329.8 263.1 331.6 263.5 332.9C263.9 334.2 264.2 335.5 264.6 335.6C264.9 335.8 265.3 334.9 265.7 334.0C266.0 333.1 266.4 331.1 266.8 330.2C267.1 329.3 267.5 328.4 267.9 328.5C268.2 328.7 268.4 329.5 268.7 331.3C269.0 333.0 269.3 336.5 269.6 338.9C269.9 341.3 270.1 344.1 270.4 345.5C270.6 346.8 270.9 347.5 271.1 347.1C271.4 346.7 271.6 345.5 271.8 343.3C272.0 341.0 272.2 336.9 272.4 333.5C272.7 330.0 272.8 325.8 273.1 322.5C273.3 319.3 273.6 316.0 274.0 313.8C274.3 311.6 274.7 310.5 275.1 309.5C275.4 308.5 275.8 307.8 276.1 307.8C276.5 307.8 276.8 308.1 277.0 309.5C277.3 310.8 277.5 313.1 277.7 316.0C277.9 318.9 278.1 323.3 278.3 326.9C278.6 330.5 278.8 334.7 279.1 337.8C279.3 340.9 279.5 343.5 279.9 345.5C280.2 347.4 280.6 349.1 280.9 349.3C281.3 349.5 281.7 348.1 282.0 346.5C282.4 345.0 282.6 342.2 282.9 340.0C283.2 337.8 283.6 335.2 284.0 333.5C284.4 331.7 284.8 330.5 285.3 329.6C285.8 328.8 286.5 328.6 287.1 328.5C287.7 328.5 288.3 328.7 288.9 329.1C289.5 329.5 290.0 329.9 290.5 330.7C291.1 331.5 291.6 332.9 292.2 334.0C292.7 335.1 293.3 336.4 293.8 337.3C294.3 338.2 294.8 339.0 295.1 339.5C295.5 339.9 295.7 340.8 296.0 340.0C296.3 339.2 296.5 336.7 296.7 334.5C296.8 332.4 296.9 328.5 297.1 326.9C297.3 325.3 297.6 324.7 298.0 324.7C298.3 324.7 298.8 326.5 299.3 326.9C299.8 327.3 300.4 327.2 300.9 327.1C301.5 327.1 301.9 326.6 302.5 326.7C303.2 326.8 304.4 327.6 304.7 327.8"/>
<clipPath id="ci"><rect x="390.40" y="273.50" width="143.40" height="107.70"/></clipPath>
<path id="ri" d="M387.4 327.7C387.9 327.7 389.3 327.7 390.2 327.7C391.2 327.7 392.1 327.7 393.1 327.7C394.0 327.7 395.0 327.7 395.9 327.7C396.9 327.7 397.8 327.7 398.8 327.7C399.7 327.7 400.7 327.7 401.6 327.7C402.6 327.7 403.5 327.7 404.4 327.7C405.4 327.7 406.3 327.7 407.3 327.7C408.2 327.7 409.2 327.7 410.1 327.7C411.1 327.7 412.0 327.7 413.0 327.7C413.9 327.7 414.9 327.7 415.8 327.7C416.8 327.7 417.7 327.7 418.7 327.7C419.6 327.7 420.5 327.7 421.5 327.7C422.4 327.7 423.4 327.7 424.3 327.7C425.3 327.7 426.2 327.7 427.2 327.7C428.1 327.7 429.1 327.7 430.0 327.7C431.0 327.7 431.9 327.7 432.9 327.7C433.8 327.7 434.8 327.7 435.7 327.7C436.7 327.7 437.6 327.8 438.5 327.7C439.5 327.5 440.5 327.2 441.3 326.8C442.1 326.4 442.8 325.4 443.5 325.2C444.1 325.0 444.5 325.2 445.1 325.5C445.7 325.8 446.5 326.7 447.3 327.1C448.0 327.6 448.7 327.9 449.5 328.1C450.2 328.4 450.9 328.8 451.6 328.8C452.4 328.8 453.1 328.2 453.8 328.1C454.5 328.1 455.2 328.6 455.8 328.5C456.4 328.3 456.8 327.9 457.3 327.4C457.8 326.8 458.3 325.6 458.7 325.2C459.2 324.8 459.7 324.6 460.1 324.9C460.6 325.1 461.0 326.0 461.5 326.8C461.9 327.7 462.3 329.1 462.8 329.9C463.2 330.7 463.8 331.5 464.2 331.7C464.6 331.9 464.9 331.7 465.3 331.2C465.7 330.6 466.2 329.4 466.7 328.5C467.2 327.5 467.7 326.5 468.2 325.7C468.7 324.9 469.2 324.1 469.6 323.5C470.1 323.0 470.6 322.5 471.1 322.5C471.5 322.4 472.1 322.5 472.6 323.0C473.1 323.5 473.5 324.4 474.0 325.2C474.5 326.0 475.1 327.0 475.6 327.9C476.2 328.8 476.8 329.8 477.3 330.6C477.8 331.5 478.3 332.3 478.7 332.8C479.1 333.3 479.4 333.9 479.8 333.6C480.1 333.3 480.5 332.2 480.9 331.2C481.2 330.1 481.4 328.3 481.7 327.4C482.1 326.5 482.3 326.1 482.7 325.7C483.1 325.4 483.7 325.0 484.1 325.2C484.6 325.3 485.0 326.1 485.5 326.6C485.9 327.1 486.3 327.8 486.8 328.1C487.2 328.4 487.7 328.6 488.2 328.5C488.7 328.3 489.1 327.5 489.8 327.4C490.6 327.2 491.8 327.4 492.8 327.4C493.7 327.4 494.7 327.4 495.7 327.4C496.7 327.4 497.6 327.4 498.6 327.4C499.6 327.4 500.6 327.4 501.6 327.4C502.5 327.4 503.5 327.4 504.5 327.4C505.5 327.4 506.5 327.4 507.4 327.4C508.4 327.4 509.4 327.4 510.4 327.4C511.4 327.4 512.3 327.4 513.3 327.4C514.3 327.4 515.3 327.4 516.2 327.4C517.2 327.4 518.2 327.4 519.2 327.4C520.2 327.4 521.1 327.4 522.1 327.4C523.1 327.4 524.1 327.4 525.1 327.4C526.0 327.4 527.0 327.4 528.0 327.4C529.0 327.4 529.9 327.4 530.9 327.4C531.9 327.4 532.9 327.4 533.9 327.4C534.8 327.4 536.3 327.4 536.8 327.4"/>
<path id="gi" d="M438.5 327.7C439.0 327.5 440.5 327.2 441.3 326.8C442.1 326.4 442.8 325.4 443.5 325.2C444.1 325.0 444.5 325.2 445.1 325.5C445.7 325.8 446.5 326.7 447.3 327.1C448.0 327.6 448.7 327.9 449.5 328.1C450.2 328.4 450.9 328.8 451.6 328.8C452.4 328.8 453.1 328.2 453.8 328.1C454.5 328.1 455.2 328.6 455.8 328.5C456.4 328.3 456.8 327.9 457.3 327.4C457.8 326.8 458.3 325.6 458.7 325.2C459.2 324.8 459.7 324.6 460.1 324.9C460.6 325.1 461.0 326.0 461.5 326.8C461.9 327.7 462.3 329.1 462.8 329.9C463.2 330.7 463.8 331.5 464.2 331.7C464.6 331.9 464.9 331.7 465.3 331.2C465.7 330.6 466.2 329.4 466.7 328.5C467.2 327.5 467.7 326.5 468.2 325.7C468.7 324.9 469.2 324.1 469.6 323.5C470.1 323.0 470.6 322.5 471.1 322.5C471.5 322.4 472.1 322.5 472.6 323.0C473.1 323.5 473.5 324.4 474.0 325.2C474.5 326.0 475.1 327.0 475.6 327.9C476.2 328.8 476.8 329.8 477.3 330.6C477.8 331.5 478.3 332.3 478.7 332.8C479.1 333.3 479.4 333.9 479.8 333.6C480.1 333.3 480.5 332.2 480.9 331.2C481.2 330.1 481.4 328.3 481.7 327.4C482.1 326.5 482.3 326.1 482.7 325.7C483.1 325.4 483.7 325.0 484.1 325.2C484.6 325.3 485.0 326.1 485.5 326.6C485.9 327.1 486.5 327.9 486.8 328.1"/>
<clipPath id="cj"><rect x="26.00" y="411.20" width="145.70" height="109.30"/></clipPath>
<path id="rj" d="M23.0 465.8C23.5 465.8 25.0 465.8 26.0 465.8C27.0 465.8 27.9 465.8 28.9 465.8C29.9 465.8 30.9 465.8 31.9 465.8C32.9 465.8 33.9 465.8 34.9 465.7C35.8 465.7 36.8 465.7 37.8 465.7C38.8 465.7 39.8 465.7 40.8 465.7C41.8 465.7 42.8 465.7 43.8 465.7C44.7 465.7 45.7 465.7 46.7 465.7C47.7 465.7 48.7 465.7 49.7 465.7C50.7 465.6 51.7 465.6 52.6 465.6C53.6 465.6 54.6 465.6 55.6 465.6C56.6 465.6 57.6 465.6 58.6 465.6C59.6 465.6 60.6 465.6 61.5 465.6C62.5 465.6 63.5 465.6 64.5 465.6C65.5 465.6 66.5 465.6 67.5 465.5C68.5 465.5 69.4 465.5 70.4 465.5C71.4 465.5 72.4 465.5 73.4 465.5C74.4 465.5 75.6 465.6 76.4 465.5C77.1 465.4 77.5 465.2 78.0 465.1C78.5 465.0 78.9 464.7 79.6 464.7C80.4 464.7 81.6 464.7 82.4 465.1C83.1 465.4 83.5 466.1 84.0 466.6C84.5 467.1 85.1 467.7 85.6 468.0C86.2 468.3 86.7 468.5 87.3 468.3C87.8 468.1 88.4 467.3 88.9 466.9C89.5 466.5 89.9 466.1 90.5 465.8C91.2 465.5 92.1 465.5 92.7 465.3C93.4 465.1 93.9 465.2 94.4 464.7C94.8 464.3 95.1 463.4 95.5 462.5C95.8 461.7 96.1 460.2 96.5 459.8C97.0 459.5 97.5 460.5 98.0 460.4C98.4 460.2 98.7 458.9 99.1 458.7C99.4 458.5 99.8 458.6 100.1 459.3C100.5 459.9 100.8 461.5 101.2 462.5C101.6 463.5 102.1 464.6 102.5 465.3C103.0 465.9 103.6 466.2 104.2 466.6C104.8 466.9 105.4 467.1 106.0 467.5C106.7 467.8 107.3 468.4 108.0 468.8C108.7 469.1 109.5 469.5 110.2 469.6C110.9 469.8 111.7 469.9 112.4 469.6C113.0 469.4 113.5 468.4 114.0 468.0C114.5 467.6 114.7 467.2 115.1 467.5C115.5 467.7 115.8 469.0 116.2 469.6C116.5 470.3 116.9 471.2 117.3 471.3C117.7 471.4 118.3 470.8 118.7 470.2C119.1 469.5 119.4 468.4 119.8 467.5C120.1 466.5 120.5 465.5 120.9 464.7C121.2 464.0 121.6 463.0 122.0 462.9C122.3 462.8 122.7 463.6 123.1 464.2C123.5 464.7 123.9 465.7 124.4 466.1C124.9 466.6 125.5 467.0 126.0 466.9C126.5 466.9 127.1 466.1 127.6 465.8C128.2 465.5 128.5 465.4 129.3 465.3C130.0 465.2 131.2 465.3 132.1 465.3C133.1 465.3 134.0 465.3 135.0 465.3C135.9 465.4 136.8 465.4 137.8 465.4C138.7 465.4 139.7 465.4 140.6 465.4C141.6 465.4 142.5 465.4 143.5 465.4C144.4 465.5 145.4 465.5 146.3 465.5C147.3 465.5 148.2 465.5 149.1 465.5C150.1 465.5 151.0 465.5 152.0 465.5C152.9 465.6 153.9 465.6 154.8 465.6C155.8 465.6 156.7 465.6 157.7 465.6C158.6 465.6 159.6 465.6 160.5 465.6C161.5 465.7 162.4 465.7 163.3 465.7C164.3 465.7 165.2 465.7 166.2 465.7C167.1 465.7 168.1 465.7 169.0 465.8C170.0 465.8 170.9 465.8 171.9 465.8C172.8 465.8 174.2 465.8 174.7 465.8"/>
<path id="gj" d="M76.4 465.5C76.6 465.4 77.5 465.2 78.0 465.1C78.5 465.0 78.9 464.7 79.6 464.7C80.4 464.7 81.6 464.7 82.4 465.1C83.1 465.4 83.5 466.1 84.0 466.6C84.5 467.1 85.1 467.7 85.6 468.0C86.2 468.3 86.7 468.5 87.3 468.3C87.8 468.1 88.4 467.3 88.9 466.9C89.5 466.5 89.9 466.1 90.5 465.8C91.2 465.5 92.1 465.5 92.7 465.3C93.4 465.1 93.9 465.2 94.4 464.7C94.8 464.3 95.1 463.4 95.5 462.5C95.8 461.7 96.1 460.2 96.5 459.8C97.0 459.5 97.5 460.5 98.0 460.4C98.4 460.2 98.7 458.9 99.1 458.7C99.4 458.5 99.8 458.6 100.1 459.3C100.5 459.9 100.8 461.5 101.2 462.5C101.6 463.5 102.1 464.6 102.5 465.3C103.0 465.9 103.6 466.2 104.2 466.6C104.8 466.9 105.4 467.1 106.0 467.5C106.7 467.8 107.3 468.4 108.0 468.8C108.7 469.1 109.5 469.5 110.2 469.6C110.9 469.8 111.7 469.9 112.4 469.6C113.0 469.4 113.5 468.4 114.0 468.0C114.5 467.6 114.7 467.2 115.1 467.5C115.5 467.7 115.8 469.0 116.2 469.6C116.5 470.3 116.9 471.2 117.3 471.3C117.7 471.4 118.3 470.8 118.7 470.2C119.1 469.5 119.4 468.4 119.8 467.5C120.1 466.5 120.5 465.5 120.9 464.7C121.2 464.0 121.6 463.0 122.0 462.9C122.3 462.8 122.7 463.6 123.1 464.2C123.5 464.7 123.9 465.7 124.4 466.1C124.9 466.6 125.5 467.0 126.0 466.9C126.5 466.9 127.4 466.0 127.6 465.8"/>
<clipPath id="ck"><rect x="207.10" y="410.80" width="143.40" height="108.40"/></clipPath>
<path id="rk" d="M204.1 464.9C204.6 464.9 206.1 464.9 207.1 464.9C208.1 464.9 209.0 464.9 210.0 464.9C211.0 464.9 212.0 464.9 213.0 464.9C214.0 464.9 215.0 464.9 216.0 464.9C216.9 464.9 217.9 464.9 218.9 464.9C219.9 464.9 220.9 464.9 221.9 464.9C222.9 464.9 223.9 464.9 224.8 464.9C225.8 464.9 226.8 464.9 227.8 464.8C228.8 464.8 229.8 464.8 230.8 464.8C231.8 464.8 232.8 464.8 233.7 464.8C234.7 464.8 235.7 464.8 236.7 464.8C237.7 464.8 238.7 464.8 239.7 464.8C240.7 464.8 241.6 464.8 242.6 464.8C243.6 464.8 244.6 464.8 245.6 464.8C246.6 464.8 247.6 464.8 248.6 464.8C249.6 464.8 250.5 464.8 251.5 464.8C252.5 464.7 253.5 464.7 254.5 464.7C255.5 464.7 256.6 464.7 257.5 464.7C258.3 464.7 258.7 464.7 259.4 464.7C260.0 464.7 260.6 464.6 261.3 464.7C262.0 464.8 262.8 464.9 263.5 465.3C264.1 465.7 264.6 467.0 265.1 467.2C265.6 467.5 265.9 467.3 266.4 466.9C266.9 466.5 267.3 465.2 267.8 464.7C268.3 464.2 268.9 464.1 269.5 464.0C270.0 463.9 270.5 464.3 271.1 464.2C271.6 464.1 272.3 463.8 272.7 463.3C273.2 462.9 273.5 462.3 273.8 461.5C274.2 460.6 274.5 459.0 274.9 458.2C275.3 457.4 275.5 456.9 276.0 456.5C276.5 456.2 277.1 456.3 277.6 456.3C278.2 456.3 278.8 456.2 279.3 456.5C279.8 456.9 280.1 457.4 280.6 458.2C281.0 459.0 281.5 460.3 282.0 461.5C282.5 462.6 283.0 464.1 283.4 465.3C283.9 466.5 284.2 467.5 284.7 468.5C285.2 469.5 285.8 470.6 286.4 471.3C286.9 472.0 287.5 472.4 288.0 472.7C288.5 473.0 289.1 473.1 289.6 472.9C290.1 472.7 290.6 472.0 291.1 471.3C291.5 470.5 291.9 469.4 292.4 468.5C292.8 467.7 293.2 466.7 293.7 466.1C294.1 465.6 294.6 465.1 295.1 465.1C295.6 465.0 296.1 465.3 296.5 465.8C297.0 466.3 297.4 467.4 297.8 468.0C298.3 468.6 298.7 469.5 299.1 469.6C299.5 469.8 299.9 469.8 300.2 469.1C300.5 468.4 300.6 466.4 300.9 465.3C301.1 464.2 301.4 462.7 301.6 462.5C301.9 462.4 302.1 463.5 302.4 464.2C302.7 464.8 303.1 465.9 303.5 466.4C303.9 466.8 304.4 467.1 304.9 466.9C305.4 466.7 305.9 465.6 306.5 465.3C307.2 464.9 307.9 464.8 308.7 464.7C309.6 464.6 310.7 464.7 311.7 464.7C312.7 464.8 313.7 464.8 314.7 464.8C315.7 464.8 316.7 464.8 317.7 464.8C318.7 464.8 319.7 464.8 320.7 464.8C321.7 464.8 322.7 464.8 323.7 464.8C324.6 464.8 325.6 464.9 326.6 464.9C327.6 464.9 328.6 464.9 329.6 464.9C330.6 464.9 331.6 464.9 332.6 464.9C333.6 464.9 334.6 464.9 335.6 464.9C336.6 464.9 337.6 464.9 338.6 464.9C339.6 465.0 340.6 465.0 341.6 465.0C342.6 465.0 343.6 465.0 344.5 465.0C345.5 465.0 346.5 465.0 347.5 465.0C348.5 465.0 349.5 465.0 350.5 465.0C351.5 465.0 353.0 465.1 353.5 465.1"/>
<path id="gk" d="M263.5 465.3C263.7 465.6 264.6 467.0 265.1 467.2C265.6 467.5 265.9 467.3 266.4 466.9C266.9 466.5 267.3 465.2 267.8 464.7C268.3 464.2 268.9 464.1 269.5 464.0C270.0 463.9 270.5 464.3 271.1 464.2C271.6 464.1 272.3 463.8 272.7 463.3C273.2 462.9 273.5 462.3 273.8 461.5C274.2 460.6 274.5 459.0 274.9 458.2C275.3 457.4 275.5 456.9 276.0 456.5C276.5 456.2 277.1 456.3 277.6 456.3C278.2 456.3 278.8 456.2 279.3 456.5C279.8 456.9 280.1 457.4 280.6 458.2C281.0 459.0 281.5 460.3 282.0 461.5C282.5 462.6 283.0 464.1 283.4 465.3C283.9 466.5 284.2 467.5 284.7 468.5C285.2 469.5 285.8 470.6 286.4 471.3C286.9 472.0 287.5 472.4 288.0 472.7C288.5 473.0 289.1 473.1 289.6 472.9C290.1 472.7 290.6 472.0 291.1 471.3C291.5 470.5 291.9 469.4 292.4 468.5C292.8 467.7 293.2 466.7 293.7 466.1C294.1 465.6 294.6 465.1 295.1 465.1C295.6 465.0 296.1 465.3 296.5 465.8C297.0 466.3 297.4 467.4 297.8 468.0C298.3 468.6 298.7 469.5 299.1 469.6C299.5 469.8 299.9 469.8 300.2 469.1C300.5 468.4 300.6 466.4 300.9 465.3C301.1 464.2 301.4 462.7 301.6 462.5C301.9 462.4 302.1 463.5 302.4 464.2C302.7 464.8 303.1 465.9 303.5 466.4C303.9 466.8 304.4 467.1 304.9 466.9C305.4 466.7 306.3 465.5 306.5 465.3"/>
<clipPath id="cl"><rect x="390.30" y="410.10" width="144.20" height="108.40"/></clipPath>
<path id="rl" d="M387.3 464.7C387.8 464.7 389.2 464.7 390.2 464.7C391.2 464.7 392.1 464.7 393.1 464.7C394.1 464.7 395.1 464.7 396.0 464.7C397.0 464.7 398.0 464.7 398.9 464.7C399.9 464.7 400.9 464.7 401.8 464.7C402.8 464.7 403.8 464.7 404.7 464.7C405.7 464.7 406.7 464.7 407.7 464.7C408.6 464.7 409.6 464.7 410.6 464.7C411.5 464.7 412.5 464.7 413.5 464.7C414.4 464.7 415.4 464.7 416.4 464.7C417.3 464.7 418.3 464.7 419.3 464.7C420.3 464.7 421.2 464.7 422.2 464.7C423.2 464.7 424.1 464.7 425.1 464.7C426.1 464.7 427.0 464.7 428.0 464.7C429.0 464.7 429.9 464.7 430.9 464.7C431.9 464.7 432.9 464.7 433.8 464.7C434.8 464.7 435.8 464.7 436.7 464.7C437.7 464.7 438.9 464.7 439.6 464.7C440.4 464.7 440.7 464.8 441.3 464.9C441.8 465.0 442.3 465.0 442.9 465.1C443.5 465.2 444.2 465.6 444.9 465.5C445.5 465.3 446.1 464.5 446.7 464.4C447.4 464.2 448.3 464.9 448.9 464.7C449.5 464.5 450.0 463.9 450.5 463.3C451.1 462.6 451.7 461.3 452.2 460.8C452.7 460.3 453.1 460.0 453.6 460.3C454.1 460.6 454.4 461.8 454.9 462.5C455.4 463.2 456.0 464.4 456.5 464.7C457.1 465.0 457.5 464.5 458.2 464.4C458.8 464.2 459.5 463.8 460.4 463.6C461.2 463.4 462.2 463.1 463.1 462.9C464.0 462.8 465.0 462.7 465.8 462.7C466.6 462.8 467.3 463.2 468.0 463.3C468.7 463.3 469.3 463.1 470.0 462.9C470.6 462.8 471.2 462.4 471.8 462.5C472.4 462.7 472.9 463.1 473.5 463.8C474.0 464.5 474.5 465.6 475.1 466.5C475.6 467.5 476.2 468.6 476.7 469.3C477.2 469.9 477.6 470.7 478.0 470.6C478.4 470.5 478.8 469.6 479.1 468.7C479.5 467.9 479.8 466.3 480.2 465.5C480.6 464.6 481.1 464.3 481.6 463.8C482.1 463.3 482.7 462.8 483.3 462.5C483.8 462.2 484.4 462.0 484.9 462.2C485.4 462.4 485.8 463.1 486.3 463.6C486.8 464.1 487.4 464.8 487.9 465.1C488.3 465.4 488.8 465.5 489.3 465.5C489.8 465.4 490.2 464.8 490.9 464.7C491.7 464.6 492.9 464.7 493.8 464.7C494.8 464.7 495.8 464.7 496.7 464.7C497.7 464.7 498.7 464.7 499.6 464.7C500.6 464.7 501.6 464.7 502.6 464.7C503.5 464.7 504.5 464.7 505.5 464.7C506.4 464.7 507.4 464.7 508.4 464.7C509.4 464.7 510.3 464.7 511.3 464.7C512.3 464.7 513.2 464.7 514.2 464.7C515.2 464.7 516.1 464.7 517.1 464.7C518.1 464.7 519.1 464.7 520.0 464.7C521.0 464.7 522.0 464.7 522.9 464.7C523.9 464.7 524.9 464.7 525.9 464.7C526.8 464.7 527.8 464.7 528.8 464.7C529.7 464.7 530.7 464.7 531.7 464.7C532.6 464.7 533.6 464.7 534.6 464.7C535.6 464.7 537.0 464.7 537.5 464.7"/>
<path id="gl" d="M448.9 464.7C449.2 464.5 450.0 463.9 450.5 463.3C451.1 462.6 451.7 461.3 452.2 460.8C452.7 460.3 453.1 460.0 453.6 460.3C454.1 460.6 454.4 461.8 454.9 462.5C455.4 463.2 456.0 464.4 456.5 464.7C457.1 465.0 457.5 464.5 458.2 464.4C458.8 464.2 459.5 463.8 460.4 463.6C461.2 463.4 462.2 463.1 463.1 462.9C464.0 462.8 465.0 462.7 465.8 462.7C466.6 462.8 467.3 463.2 468.0 463.3C468.7 463.3 469.3 463.1 470.0 462.9C470.6 462.8 471.2 462.4 471.8 462.5C472.4 462.7 472.9 463.1 473.5 463.8C474.0 464.5 474.5 465.6 475.1 466.5C475.6 467.5 476.2 468.6 476.7 469.3C477.2 469.9 477.6 470.7 478.0 470.6C478.4 470.5 478.8 469.6 479.1 468.7C479.5 467.9 479.8 466.3 480.2 465.5C480.6 464.6 481.1 464.3 481.6 463.8C482.1 463.3 482.7 462.8 483.3 462.5C483.8 462.2 484.4 462.0 484.9 462.2C485.4 462.4 485.8 463.1 486.3 463.6C486.8 464.1 487.6 464.9 487.9 465.1"/>
<clipPath id="cm"><rect x="26.10" y="548.60" width="145.60" height="109.00"/></clipPath>
<path id="rm" d="M23.1 603.1C23.6 603.1 25.0 603.1 26.0 603.1C27.0 603.1 27.9 603.1 28.9 603.1C29.9 603.1 30.8 603.1 31.8 603.1C32.8 603.1 33.7 603.1 34.7 603.1C35.7 603.1 36.6 603.1 37.6 603.1C38.6 603.0 39.5 603.0 40.5 603.0C41.5 603.0 42.4 603.0 43.4 603.0C44.4 603.0 45.3 603.0 46.3 603.0C47.3 603.0 48.2 603.0 49.2 603.0C50.2 603.0 51.1 603.0 52.1 603.0C53.1 603.0 54.0 603.0 55.0 602.9C55.9 602.9 56.9 602.9 57.9 602.9C58.8 602.9 59.8 602.9 60.8 602.9C61.7 602.9 62.7 602.9 63.7 602.9C64.6 602.9 65.6 602.9 66.6 602.9C67.5 602.9 68.5 602.9 69.5 602.9C70.4 602.8 71.4 602.8 72.4 602.8C73.3 602.8 74.3 603.0 75.3 602.8C76.2 602.6 77.2 602.1 78.0 601.7C78.8 601.4 79.5 600.9 80.2 600.9C80.9 600.8 81.6 600.9 82.4 601.2C83.1 601.5 83.8 602.2 84.5 602.6C85.3 603.0 86.0 603.4 86.7 603.7C87.5 603.9 88.2 604.2 88.9 604.1C89.6 604.1 90.4 603.5 91.1 603.4C91.8 603.2 92.7 603.5 93.3 603.4C93.9 603.2 94.3 602.7 94.7 602.3C95.1 601.8 95.4 600.9 95.8 600.6C96.1 600.3 96.5 600.1 96.9 600.4C97.2 600.8 97.6 601.8 98.0 602.8C98.3 603.9 98.7 605.7 99.1 606.6C99.5 607.6 99.9 608.1 100.4 608.5C100.8 608.9 101.2 608.9 101.7 608.8C102.1 608.7 102.6 608.3 103.1 607.7C103.6 607.2 104.1 606.4 104.5 605.5C105.0 604.7 105.4 603.6 105.8 602.8C106.3 602.0 106.7 601.3 107.1 600.6C107.6 600.0 108.1 599.3 108.5 599.0C109.0 598.7 109.2 598.5 109.6 598.7C110.1 598.9 110.6 599.4 111.1 600.1C111.5 600.8 112.1 602.0 112.6 602.8C113.1 603.6 113.5 604.2 114.0 605.0C114.5 605.8 115.0 607.0 115.4 607.7C115.9 608.5 116.4 609.2 116.7 609.4C117.1 609.5 117.3 609.5 117.6 608.8C117.9 608.2 118.2 606.7 118.5 605.5C118.8 604.4 119.0 602.6 119.3 601.7C119.7 600.9 120.2 600.7 120.5 600.4C120.9 600.1 121.3 600.0 121.6 600.1C122.0 600.2 122.4 600.8 122.8 601.2C123.3 601.6 123.7 602.2 124.1 602.6C124.6 603.0 125.0 603.6 125.5 603.7C125.9 603.8 126.5 603.3 127.1 603.1C127.7 603.0 128.4 602.9 129.3 602.8C130.1 602.8 131.2 602.8 132.1 602.8C133.1 602.8 134.0 602.9 135.0 602.9C135.9 602.9 136.8 602.9 137.8 602.9C138.7 602.9 139.7 602.9 140.6 602.9C141.6 602.9 142.5 602.9 143.5 602.9C144.4 602.9 145.4 602.9 146.3 602.9C147.3 602.9 148.2 603.0 149.1 603.0C150.1 603.0 151.0 603.0 152.0 603.0C152.9 603.0 153.9 603.0 154.8 603.0C155.8 603.0 156.7 603.0 157.7 603.0C158.6 603.0 159.6 603.0 160.5 603.0C161.5 603.0 162.4 603.1 163.3 603.1C164.3 603.1 165.2 603.1 166.2 603.1C167.1 603.1 168.1 603.1 169.0 603.1C170.0 603.1 170.9 603.1 171.9 603.1C172.8 603.1 174.2 603.1 174.7 603.1"/>
<path id="gm" d="M75.3 602.8C75.7 602.6 77.2 602.1 78.0 601.7C78.8 601.4 79.5 600.9 80.2 600.9C80.9 600.8 81.6 600.9 82.4 601.2C83.1 601.5 83.8 602.2 84.5 602.6C85.3 603.0 86.0 603.4 86.7 603.7C87.5 603.9 88.2 604.2 88.9 604.1C89.6 604.1 90.4 603.5 91.1 603.4C91.8 603.2 92.7 603.5 93.3 603.4C93.9 603.2 94.3 602.7 94.7 602.3C95.1 601.8 95.4 600.9 95.8 600.6C96.1 600.3 96.5 600.1 96.9 600.4C97.2 600.8 97.6 601.8 98.0 602.8C98.3 603.9 98.7 605.7 99.1 606.6C99.5 607.6 99.9 608.1 100.4 608.5C100.8 608.9 101.2 608.9 101.7 608.8C102.1 608.7 102.6 608.3 103.1 607.7C103.6 607.2 104.1 606.4 104.5 605.5C105.0 604.7 105.4 603.6 105.8 602.8C106.3 602.0 106.7 601.3 107.1 600.6C107.6 600.0 108.1 599.3 108.5 599.0C109.0 598.7 109.2 598.5 109.6 598.7C110.1 598.9 110.6 599.4 111.1 600.1C111.5 600.8 112.1 602.0 112.6 602.8C113.1 603.6 113.5 604.2 114.0 605.0C114.5 605.8 115.0 607.0 115.4 607.7C115.9 608.5 116.4 609.2 116.7 609.4C117.1 609.5 117.3 609.5 117.6 608.8C117.9 608.2 118.2 606.7 118.5 605.5C118.8 604.4 119.0 602.6 119.3 601.7C119.7 600.9 120.2 600.7 120.5 600.4C120.9 600.1 121.3 600.0 121.6 600.1C122.0 600.2 122.4 600.8 122.8 601.2C123.3 601.6 123.9 602.4 124.1 602.6"/>
<clipPath id="cn"><rect x="207.90" y="548.60" width="143.10" height="107.30"/></clipPath>
<path id="rn" d="M204.9 602.4C205.4 602.4 206.9 602.4 207.9 602.4C208.9 602.4 209.8 602.4 210.8 602.4C211.8 602.4 212.8 602.4 213.8 602.4C214.8 602.4 215.8 602.4 216.8 602.4C217.7 602.4 218.7 602.4 219.7 602.4C220.7 602.4 221.7 602.4 222.7 602.4C223.7 602.4 224.7 602.4 225.6 602.4C226.6 602.4 227.6 602.4 228.6 602.4C229.6 602.4 230.6 602.4 231.6 602.4C232.6 602.4 233.5 602.4 234.5 602.4C235.5 602.4 236.5 602.4 237.5 602.4C238.5 602.4 239.5 602.4 240.5 602.4C241.4 602.4 242.4 602.4 243.4 602.4C244.4 602.4 245.4 602.4 246.4 602.4C247.4 602.4 248.4 602.4 249.3 602.4C250.3 602.4 251.3 602.4 252.3 602.4C253.3 602.4 254.3 602.5 255.3 602.4C256.2 602.2 257.2 601.7 258.0 601.5C258.8 601.2 259.5 600.9 260.2 600.9C260.9 600.9 261.7 601.1 262.4 601.5C263.0 601.8 263.5 602.7 264.0 603.1C264.5 603.6 265.0 604.0 265.6 604.2C266.3 604.4 267.2 604.5 267.8 604.2C268.5 603.9 268.9 603.1 269.5 602.6C270.0 602.0 270.5 601.3 271.1 600.9C271.7 600.6 272.6 600.6 273.3 600.4C273.9 600.2 274.4 600.0 274.9 599.5C275.4 599.1 275.8 598.1 276.2 597.7C276.6 597.3 276.9 596.8 277.3 597.1C277.7 597.5 278.0 598.9 278.4 599.8C278.8 600.8 279.3 601.7 279.8 602.6C280.3 603.5 280.8 604.6 281.2 605.3C281.7 606.0 282.1 607.0 282.5 606.9C282.9 606.8 283.3 605.4 283.6 604.8C284.0 604.1 284.2 603.0 284.5 603.1C284.8 603.2 285.0 604.5 285.3 605.3C285.6 606.1 285.9 607.3 286.4 608.0C286.8 608.8 287.5 609.3 288.0 609.7C288.5 610.0 289.1 610.6 289.6 610.2C290.1 609.8 290.6 608.5 291.1 607.5C291.5 606.5 292.0 604.8 292.4 604.2C292.8 603.6 293.1 603.4 293.5 603.7C293.9 603.9 294.3 605.0 294.8 605.8C295.2 606.7 295.7 607.8 296.2 608.6C296.7 609.3 297.4 610.3 297.8 610.2C298.2 610.1 298.4 609.1 298.7 608.0C298.9 606.9 299.1 604.8 299.3 603.7C299.6 602.5 299.7 601.7 300.0 601.3C300.3 600.8 300.6 600.8 301.1 600.9C301.5 601.1 302.1 601.8 302.7 602.0C303.4 602.3 304.2 602.6 304.9 602.6C305.6 602.6 306.4 602.1 307.1 602.0C307.8 601.9 308.4 602.0 309.3 602.0C310.1 602.0 311.3 602.0 312.3 602.0C313.2 602.1 314.2 602.1 315.2 602.1C316.2 602.1 317.2 602.1 318.2 602.1C319.2 602.1 320.2 602.1 321.2 602.1C322.2 602.1 323.2 602.1 324.2 602.1C325.2 602.1 326.2 602.2 327.2 602.2C328.2 602.2 329.2 602.2 330.1 602.2C331.1 602.2 332.1 602.2 333.1 602.2C334.1 602.2 335.1 602.2 336.1 602.2C337.1 602.2 338.1 602.2 339.1 602.2C340.1 602.3 341.1 602.3 342.1 602.3C343.1 602.3 344.1 602.3 345.1 602.3C346.0 602.3 347.0 602.3 348.0 602.3C349.0 602.3 350.0 602.3 351.0 602.3C352.0 602.3 353.5 602.4 354.0 602.4"/>
<path id="gn" d="M255.3 602.4C255.7 602.2 257.2 601.7 258.0 601.5C258.8 601.2 259.5 600.9 260.2 600.9C260.9 600.9 261.7 601.1 262.4 601.5C263.0 601.8 263.5 602.7 264.0 603.1C264.5 603.6 265.0 604.0 265.6 604.2C266.3 604.4 267.2 604.5 267.8 604.2C268.5 603.9 268.9 603.1 269.5 602.6C270.0 602.0 270.5 601.3 271.1 600.9C271.7 600.6 272.6 600.6 273.3 600.4C273.9 600.2 274.4 600.0 274.9 599.5C275.4 599.1 275.8 598.1 276.2 597.7C276.6 597.3 276.9 596.8 277.3 597.1C277.7 597.5 278.0 598.9 278.4 599.8C278.8 600.8 279.3 601.7 279.8 602.6C280.3 603.5 280.8 604.6 281.2 605.3C281.7 606.0 282.1 607.0 282.5 606.9C282.9 606.8 283.3 605.4 283.6 604.8C284.0 604.1 284.2 603.0 284.5 603.1C284.8 603.2 285.0 604.5 285.3 605.3C285.6 606.1 285.9 607.3 286.4 608.0C286.8 608.8 287.5 609.3 288.0 609.7C288.5 610.0 289.1 610.6 289.6 610.2C290.1 609.8 290.6 608.5 291.1 607.5C291.5 606.5 292.0 604.8 292.4 604.2C292.8 603.6 293.1 603.4 293.5 603.7C293.9 603.9 294.3 605.0 294.8 605.8C295.2 606.7 295.7 607.8 296.2 608.6C296.7 609.3 297.4 610.3 297.8 610.2C298.2 610.1 298.4 609.1 298.7 608.0C298.9 606.9 299.1 604.8 299.3 603.7C299.6 602.5 299.7 601.7 300.0 601.3C300.3 600.8 300.6 600.8 301.1 600.9C301.5 601.1 302.5 601.8 302.7 602.0"/>
<clipPath id="co"><rect x="390.80" y="548.70" width="143.90" height="107.50"/></clipPath>
<path id="ro" d="M387.8 602.5C388.3 602.5 389.8 602.5 390.8 602.5C391.8 602.5 392.8 602.5 393.8 602.5C394.8 602.5 395.8 602.5 396.8 602.5C397.8 602.5 398.7 602.5 399.7 602.5C400.7 602.5 401.7 602.5 402.7 602.5C403.7 602.5 404.7 602.5 405.7 602.5C406.7 602.5 407.7 602.5 408.7 602.5C409.7 602.5 410.7 602.5 411.7 602.5C412.7 602.5 413.7 602.5 414.7 602.5C415.7 602.5 416.7 602.5 417.7 602.5C418.6 602.5 419.6 602.5 420.6 602.5C421.6 602.5 422.6 602.5 423.6 602.5C424.6 602.5 425.6 602.5 426.6 602.5C427.6 602.5 428.6 602.5 429.6 602.5C430.6 602.5 431.6 602.5 432.6 602.5C433.6 602.5 434.6 602.5 435.6 602.5C436.6 602.5 437.7 602.5 438.5 602.5C439.4 602.5 440.0 602.4 440.7 602.4C441.5 602.3 442.1 602.4 442.9 602.3C443.7 602.2 444.8 601.6 445.6 601.7C446.5 601.8 447.2 602.4 447.8 602.8C448.5 603.3 448.9 604.2 449.5 604.5C450.0 604.7 450.5 604.6 451.1 604.2C451.6 603.9 452.2 602.9 452.7 602.3C453.3 601.7 453.7 601.0 454.4 600.6C455.0 600.3 455.9 600.4 456.5 600.1C457.2 599.8 457.6 599.3 458.2 599.0C458.7 598.7 459.3 598.0 459.8 598.1C460.4 598.2 460.9 599.0 461.5 599.5C462.0 600.1 462.5 600.7 463.1 601.2C463.6 601.6 464.2 601.9 464.7 602.3C465.2 602.7 465.6 602.9 466.0 603.6C466.4 604.2 466.8 605.0 467.1 606.1C467.5 607.1 467.8 608.6 468.2 609.9C468.6 611.2 469.2 612.7 469.6 613.7C470.1 614.7 470.6 615.5 471.1 615.9C471.5 616.3 471.9 616.5 472.4 616.2C472.8 616.0 473.3 615.3 473.7 614.3C474.1 613.2 474.4 611.2 474.8 609.9C475.1 608.6 475.4 607.4 475.9 606.6C476.3 605.9 476.8 605.6 477.3 605.5C477.7 605.5 478.2 605.7 478.7 606.1C479.1 606.5 479.6 606.9 480.0 607.7C480.4 608.5 480.9 610.1 481.3 611.0C481.7 611.9 482.0 612.9 482.4 613.2C482.8 613.5 483.2 613.4 483.5 612.6C483.8 611.9 484.1 610.2 484.4 608.8C484.7 607.5 484.9 605.5 485.2 604.5C485.6 603.4 485.8 602.9 486.3 602.5C486.8 602.1 487.5 602.1 488.2 602.1C488.9 602.0 489.5 602.2 490.4 602.3C491.2 602.3 492.3 602.3 493.3 602.3C494.3 602.3 495.3 602.3 496.3 602.3C497.3 602.3 498.3 602.3 499.2 602.3C500.2 602.3 501.2 602.3 502.2 602.3C503.2 602.3 504.2 602.3 505.2 602.3C506.1 602.3 507.1 602.3 508.1 602.3C509.1 602.3 510.1 602.3 511.1 602.3C512.1 602.3 513.0 602.3 514.0 602.3C515.0 602.3 516.0 602.3 517.0 602.3C518.0 602.3 519.0 602.3 519.9 602.3C520.9 602.3 521.9 602.3 522.9 602.3C523.9 602.3 524.9 602.3 525.9 602.3C526.9 602.3 527.8 602.3 528.8 602.3C529.8 602.3 530.8 602.3 531.8 602.3C532.8 602.3 533.8 602.3 534.7 602.3C535.7 602.3 537.2 602.3 537.7 602.3"/>
<path id="go" d="M447.8 602.8C448.1 603.1 448.9 604.2 449.5 604.5C450.0 604.7 450.5 604.6 451.1 604.2C451.6 603.9 452.2 602.9 452.7 602.3C453.3 601.7 453.7 601.0 454.4 600.6C455.0 600.3 455.9 600.4 456.5 600.1C457.2 599.8 457.6 599.3 458.2 599.0C458.7 598.7 459.3 598.0 459.8 598.1C460.4 598.2 460.9 599.0 461.5 599.5C462.0 600.1 462.5 600.7 463.1 601.2C463.6 601.6 464.2 601.9 464.7 602.3C465.2 602.7 465.6 602.9 466.0 603.6C466.4 604.2 466.8 605.0 467.1 606.1C467.5 607.1 467.8 608.6 468.2 609.9C468.6 611.2 469.2 612.7 469.6 613.7C470.1 614.7 470.6 615.5 471.1 615.9C471.5 616.3 471.9 616.5 472.4 616.2C472.8 616.0 473.3 615.3 473.7 614.3C474.1 613.2 474.4 611.2 474.8 609.9C475.1 608.6 475.4 607.4 475.9 606.6C476.3 605.9 476.8 605.6 477.3 605.5C477.7 605.5 478.2 605.7 478.7 606.1C479.1 606.5 479.6 606.9 480.0 607.7C480.4 608.5 480.9 610.1 481.3 611.0C481.7 611.9 482.0 612.9 482.4 613.2C482.8 613.5 483.2 613.4 483.5 612.6C483.8 611.9 484.1 610.2 484.4 608.8C484.7 607.5 484.9 605.5 485.2 604.5C485.6 603.4 486.1 602.8 486.3 602.5"/>
<clipPath id="cp"><rect x="206.70" y="684.30" width="144.70" height="107.50"/></clipPath>
<path id="rp" d="M203.7 738.4C204.2 738.4 205.7 738.4 206.6 738.4C207.6 738.4 208.6 738.4 209.6 738.4C210.5 738.4 211.5 738.4 212.5 738.4C213.5 738.4 214.4 738.4 215.4 738.4C216.4 738.4 217.4 738.4 218.3 738.4C219.3 738.4 220.3 738.4 221.3 738.4C222.2 738.4 223.2 738.4 224.2 738.4C225.2 738.4 226.1 738.4 227.1 738.4C228.1 738.4 229.1 738.4 230.0 738.4C231.0 738.4 232.0 738.4 233.0 738.4C233.9 738.4 234.9 738.4 235.9 738.4C236.9 738.4 237.8 738.4 238.8 738.4C239.8 738.4 240.8 738.4 241.7 738.4C242.7 738.4 243.7 738.4 244.7 738.4C245.6 738.4 246.6 738.4 247.6 738.4C248.6 738.4 249.5 738.4 250.5 738.4C251.5 738.4 252.5 738.4 253.4 738.4C254.4 738.4 255.4 738.6 256.4 738.4C257.3 738.3 258.3 737.8 259.1 737.6C259.9 737.3 260.5 736.9 261.3 736.8C262.0 736.8 262.7 736.9 263.5 737.2C264.2 737.6 264.9 738.3 265.6 738.7C266.4 739.0 267.2 739.4 267.8 739.4C268.5 739.4 268.9 738.9 269.5 738.7C270.0 738.4 270.5 737.8 271.1 737.9C271.6 738.0 272.2 739.1 272.7 739.2C273.3 739.3 273.9 739.0 274.4 738.7C274.8 738.3 275.1 737.6 275.5 737.2C275.8 736.9 276.2 736.6 276.5 736.8C276.9 737.0 277.3 737.9 277.6 738.7C278.0 739.4 278.3 740.5 278.7 741.2C279.1 741.8 279.7 742.4 280.1 742.5C280.6 742.6 281.2 742.3 281.7 741.9C282.2 741.6 282.6 740.8 283.1 740.3C283.6 739.8 284.0 739.3 284.5 738.7C285.0 738.0 285.5 737.2 286.0 736.5C286.5 735.8 287.0 735.1 287.5 734.6C287.9 734.2 288.4 733.7 288.9 733.8C289.3 733.8 289.7 734.2 290.2 734.8C290.6 735.5 291.0 736.8 291.5 737.6C291.9 738.4 292.4 739.0 292.9 739.8C293.4 740.5 293.9 741.3 294.3 741.9C294.8 742.6 295.2 743.4 295.6 743.6C296.0 743.8 296.4 743.6 296.7 743.0C297.1 742.5 297.5 741.2 297.8 740.3C298.2 739.4 298.5 738.2 298.9 737.6C299.4 736.9 300.0 736.8 300.5 736.5C301.1 736.2 301.5 735.8 302.0 735.9C302.4 736.1 302.8 737.0 303.3 737.6C303.7 738.1 304.1 738.9 304.6 739.2C305.0 739.5 305.5 739.6 306.0 739.4C306.5 739.3 307.0 738.7 307.6 738.4C308.3 738.2 309.0 738.2 309.8 738.1C310.7 738.1 311.8 738.1 312.8 738.1C313.8 738.1 314.8 738.2 315.8 738.2C316.8 738.2 317.7 738.2 318.7 738.2C319.7 738.2 320.7 738.2 321.7 738.2C322.7 738.2 323.7 738.2 324.7 738.2C325.7 738.2 326.7 738.2 327.7 738.2C328.6 738.3 329.6 738.3 330.6 738.3C331.6 738.3 332.6 738.3 333.6 738.3C334.6 738.3 335.6 738.3 336.6 738.3C337.6 738.3 338.5 738.3 339.5 738.3C340.5 738.3 341.5 738.4 342.5 738.4C343.5 738.4 344.5 738.4 345.5 738.4C346.5 738.4 347.5 738.4 348.5 738.4C349.4 738.4 350.4 738.4 351.4 738.4C352.4 738.4 353.9 738.4 354.4 738.4"/>
<path id="gp" d="M256.4 738.4C256.8 738.3 258.3 737.8 259.1 737.6C259.9 737.3 260.5 736.9 261.3 736.8C262.0 736.8 262.7 736.9 263.5 737.2C264.2 737.6 264.9 738.3 265.6 738.7C266.4 739.0 267.2 739.4 267.8 739.4C268.5 739.4 268.9 738.9 269.5 738.7C270.0 738.4 270.5 737.8 271.1 737.9C271.6 738.0 272.2 739.1 272.7 739.2C273.3 739.3 273.9 739.0 274.4 738.7C274.8 738.3 275.1 737.6 275.5 737.2C275.8 736.9 276.2 736.6 276.5 736.8C276.9 737.0 277.3 737.9 277.6 738.7C278.0 739.4 278.3 740.5 278.7 741.2C279.1 741.8 279.7 742.4 280.1 742.5C280.6 742.6 281.2 742.3 281.7 741.9C282.2 741.6 282.6 740.8 283.1 740.3C283.6 739.8 284.0 739.3 284.5 738.7C285.0 738.0 285.5 737.2 286.0 736.5C286.5 735.8 287.0 735.1 287.5 734.6C287.9 734.2 288.4 733.7 288.9 733.8C289.3 733.8 289.7 734.2 290.2 734.8C290.6 735.5 291.0 736.8 291.5 737.6C291.9 738.4 292.4 739.0 292.9 739.8C293.4 740.5 293.9 741.3 294.3 741.9C294.8 742.6 295.2 743.4 295.6 743.6C296.0 743.8 296.4 743.6 296.7 743.0C297.1 742.5 297.5 741.2 297.8 740.3C298.2 739.4 298.5 738.2 298.9 737.6C299.4 736.9 300.0 736.8 300.5 736.5C301.1 736.2 301.5 735.8 302.0 735.9C302.4 736.1 302.8 737.0 303.3 737.6C303.7 738.1 304.1 738.9 304.6 739.2C305.0 739.5 305.5 739.6 306.0 739.4C306.5 739.3 307.4 738.6 307.6 738.4"/>
</defs>
<rect width="550" height="819" fill="#fff"/>
<g id="panel-a">
<g class="t yt">
<text x="19.6" y="12.0">500</text>
<text x="19.6" y="21.6">400</text>
<text x="19.6" y="31.2">300</text>
<text x="19.6" y="40.8">200</text>
<text x="19.6" y="50.4">100</text>
<text x="19.6" y="59.9">0</text>
<text x="19.6" y="69.5">-100</text>
<text x="19.6" y="79.1">-200</text>
<text x="19.6" y="88.7">-300</text>
<text x="19.6" y="98.3">-400</text>
<text x="19.6" y="107.9">-500</text>
</g>
<text transform="translate(10.2 61.4) rotate(-90)" font-size="7.45" text-anchor="middle">Frequency (Hz)</text>
<g class="t xt">
<text x="30.2" y="118.3">0.5</text>
<text x="62.1" y="118.3">1.5</text>
<text x="91.6" y="118.3">2.5</text>
<text x="117.6" y="118.3">3.5</text>
<text x="145.3" y="118.3">4.5</text>
<text x="167.4" y="118.3">5.5</text>
</g>
<text x="103.1" y="126.8" font-size="7.4" text-anchor="middle">Slow time (s)</text>
<text x="99.0" y="135.2" font-size="7.5" text-anchor="middle">(a) Left Shoulder</text>
<rect x="26.80" y="2.70" width="143.80" height="107.80" fill="#000088"/>
<g clip-path="url(#ca)"><g filter="url(#bl)" class="ridge">
<use href="#ga" stroke="#0028f0" stroke-width="10" opacity=".22"/>
<use href="#ga" stroke="#0038ff" stroke-width="7.4" opacity=".4"/>
<use href="#ra" stroke="#0018e0" stroke-width="7.6" opacity="0.25"/>
<use href="#ra" stroke="#0028f0" stroke-width="6.3" opacity="0.6"/>
<use href="#ra" stroke="#0050ff" stroke-width="5.3"/>
<use href="#ra" stroke="#0090ff" stroke-width="4.6"/>
<path d="M82.6 51.4V62.8" stroke="#0048f0" stroke-width="2.5" opacity="1"/>
<path d="M82.6 52.1V62.1" stroke="#00c8ff" stroke-width="1.35" opacity="1"/>
<path d="M102.5 48.1V61.2" stroke="#0048f0" stroke-width="2.5" opacity="1"/>
<path d="M102.5 48.8V60.5" stroke="#00c8ff" stroke-width="1.35" opacity="1"/>
<path d="M107.1 49.2V60.6" stroke="#0048f0" stroke-width="2.5" opacity="1"/>
<path d="M107.1 49.9V59.9" stroke="#00c8ff" stroke-width="1.35" opacity="1"/>
<use href="#ra" stroke="#10c0ff" stroke-width="5.5" stroke-dasharray="1.4 6.3 1.8 4.1 1.2 7.7" stroke-linecap="butt" opacity=".75"/>
<use href="#ra" stroke="#00d0ff" stroke-width="3.95"/>
<use href="#ra" stroke="#40ffc0" stroke-width="3.35"/>
<use href="#ra" stroke="#b0ff50" stroke-width="2.85"/>
<use href="#ra" stroke="#fff000" stroke-width="2.4"/>
<use href="#ra" stroke="#ff9000" stroke-width="1.95"/>
<use href="#ra" stroke="#f02000" stroke-width="1.5"/>
<use href="#ra" stroke="#d00000" stroke-width="1.05"/>
<use href="#ra" stroke="#a00000" stroke-width="0.6"/>
</g></g>
<rect x="173.10" y="2.70" width="4.5" height="107.80" fill="url(#jet)"/>
<g class="cb">
<text x="180.7" y="13.4">-10</text>
<text x="180.7" y="31.6">-20</text>
<text x="180.7" y="49.8">-30</text>
<text x="180.7" y="68.0">-40</text>
<text x="180.7" y="86.2">-50</text>
<text x="180.7" y="104.4">-60</text>
</g>
</g>
<g id="panel-b">
<g class="t yt">
<text x="199.5" y="11.7">500</text>
<text x="199.5" y="21.4">400</text>
<text x="199.5" y="31.0">300</text>
<text x="199.5" y="40.6">200</text>
<text x="199.5" y="50.3">100</text>
<text x="199.5" y="60.0">0</text>
<text x="199.5" y="69.6">-100</text>
<text x="199.5" y="79.2">-200</text>
<text x="199.5" y="88.9">-300</text>
<text x="199.5" y="98.5">-400</text>
<text x="199.5" y="108.2">-500</text>
</g>
<text transform="translate(190.1 61.3) rotate(-90)" font-size="7.45" text-anchor="middle">Frequency (Hz)</text>
<g class="t xt">
<text x="210.3" y="118.4">0.5</text>
<text x="242.3" y="118.4">1.5</text>
<text x="271.7" y="118.4">2.5</text>
<text x="297.7" y="118.4">3.5</text>
<text x="325.5" y="118.4">4.5</text>
<text x="347.6" y="118.4">5.5</text>
</g>
<text x="284.0" y="126.9" font-size="7.4" text-anchor="middle">Slow time (s)</text>
<text x="280.3" y="135.3" font-size="7.5" text-anchor="middle">(b) Left Fore Arm</text>
<rect x="207.70" y="2.70" width="143.80" height="107.80" fill="#000088"/>
<g clip-path="url(#cb)"><g filter="url(#bl)" class="ridge">
<use href="#gb" stroke="#0028f0" stroke-width="10" opacity=".22"/>
<use href="#gb" stroke="#0038ff" stroke-width="7.4" opacity=".4"/>
<use href="#rb" stroke="#0018e0" stroke-width="7.6" opacity="0.25"/>
<use href="#rb" stroke="#0028f0" stroke-width="6.3" opacity="0.6"/>
<use href="#rb" stroke="#0050ff" stroke-width="5.3"/>
<use href="#rb" stroke="#0090ff" stroke-width="4.6"/>
<path d="M287.1 31.6L284.6 45.8L289.6 45.8Z" fill="#0040f8" stroke="#0040f8" stroke-width="1.6"/>
<path d="M287.1 32.0L284.9 45.8L289.3 45.8Z" fill="#00b8ff" stroke="#00b8ff" stroke-width="0.8"/>
<path d="M287.1 34.4L285.2 45.8L289.0 45.8Z" fill="#60ffa0" stroke="#60ffa0" stroke-width="0.5"/>
<path d="M287.1 36.1L285.4 45.8L288.8 45.8Z" fill="#e8ff20" stroke="#e8ff20" stroke-width="0.3"/>
<path d="M287.1 39.4L285.7 45.8L288.5 45.8Z" fill="#ffb000" stroke="#ffb000" stroke-width="0.2"/>
<path d="M263.8 49.6V55.0" stroke="#0048f0" stroke-width="2.5" opacity="1"/>
<path d="M263.8 50.3V54.3" stroke="#00c8ff" stroke-width="1.35" opacity="1"/>
<path d="M269.5 60.5V68.1" stroke="#0048f0" stroke-width="2.5" opacity="1"/>
<path d="M269.5 61.2V67.4" stroke="#00c8ff" stroke-width="1.35" opacity="1"/>
<path d="M295.6 64.8V69.2" stroke="#0048f0" stroke-width="2.5" opacity="1"/>
<path d="M295.6 65.5V68.5" stroke="#00c8ff" stroke-width="1.35" opacity="1"/>
<path d="M284.2 51.8V58.3" stroke="#0048f0" stroke-width="2.5" opacity="1"/>
<path d="M284.2 52.5V57.6" stroke="#00c8ff" stroke-width="1.35" opacity="1"/>
<path d="M286.9 49.6V58.3" stroke="#0048f0" stroke-width="2.5" opacity="1"/>
<path d="M286.9 50.3V57.6" stroke="#00c8ff" stroke-width="1.35" opacity="1"/>
<use href="#rb" stroke="#10c0ff" stroke-width="5.5" stroke-dasharray="1.4 6.3 1.8 4.1 1.2 7.7" stroke-linecap="butt" opacity=".75"/>
<use href="#rb" stroke="#00d0ff" stroke-width="3.95"/>
<use href="#rb" stroke="#40ffc0" stroke-width="3.35"/>
<use href="#rb" stroke="#b0ff50" stroke-width="2.85"/>
<use href="#rb" stroke="#fff000" stroke-width="2.4"/>
<use href="#rb" stroke="#ff9000" stroke-width="1.95"/>
<use href="#rb" stroke="#f02000" stroke-width="1.5"/>
<use href="#rb" stroke="#d00000" stroke-width="1.05"/>
<use href="#rb" stroke="#a00000" stroke-width="0.6"/>
</g></g>
<rect x="354.30" y="2.70" width="4.5" height="107.80" fill="url(#jet)"/>
<g class="cb">
<text x="361.9" y="13.4">-10</text>
<text x="361.9" y="31.6">-20</text>
<text x="361.9" y="49.8">-30</text>
<text x="361.9" y="68.0">-40</text>
<text x="361.9" y="86.2">-50</text>
<text x="361.9" y="104.4">-60</text>
</g>
</g>
<g id="panel-c">
<g class="t yt">
<text x="382.2" y="11.7">500</text>
<text x="382.2" y="21.3">400</text>
<text x="382.2" y="30.9">300</text>
<text x="382.2" y="40.6">200</text>
<text x="382.2" y="50.2">100</text>
<text x="382.2" y="59.8">0</text>
<text x="382.2" y="69.4">-100</text>
<text x="382.2" y="79.0">-200</text>
<text x="382.2" y="88.7">-300</text>
<text x="382.2" y="98.3">-400</text>
<text x="382.2" y="107.9">-500</text>
</g>
<text transform="translate(371.8 61.2) rotate(-90)" font-size="7.45" text-anchor="middle">Frequency (Hz)</text>
<g class="t xt">
<text x="393.4" y="118.4">0.5</text>
<text x="425.4" y="118.4">1.5</text>
<text x="454.8" y="118.4">2.5</text>
<text x="480.8" y="118.4">3.5</text>
<text x="508.6" y="118.4">4.5</text>
<text x="530.7" y="118.4">5.5</text>
</g>
<text x="466.0" y="126.9" font-size="7.4" text-anchor="middle">Slow time (s)</text>
<text x="464.5" y="135.3" font-size="7.5" text-anchor="middle">(c) Left Arm</text>
<rect x="392.10" y="2.00" width="142.95" height="107.80" fill="#000088"/>
<g clip-path="url(#cc)"><g filter="url(#bl)" class="ridge">
<use href="#gc" stroke="#0028f0" stroke-width="10" opacity=".22"/>
<use href="#gc" stroke="#0038ff" stroke-width="7.4" opacity=".4"/>
<use href="#rc" stroke="#0018e0" stroke-width="7.6" opacity="0.25"/>
<use href="#rc" stroke="#0028f0" stroke-width="6.3" opacity="0.6"/>
<use href="#rc" stroke="#0050ff" stroke-width="5.3"/>
<use href="#rc" stroke="#0090ff" stroke-width="4.6"/>
<path d="M447.9 50.8V61.7" stroke="#0048f0" stroke-width="2.5" opacity="1"/>
<path d="M447.9 51.5V61.0" stroke="#00c8ff" stroke-width="1.35" opacity="1"/>
<path d="M467.9 45.9V59.0" stroke="#0048f0" stroke-width="2.5" opacity="1"/>
<path d="M467.9 46.6V58.3" stroke="#00c8ff" stroke-width="1.35" opacity="1"/>
<path d="M472.5 46.4V54.0" stroke="#0048f0" stroke-width="2.5" opacity="1"/>
<path d="M472.5 47.1V53.3" stroke="#00c8ff" stroke-width="1.35" opacity="1"/>
<use href="#rc" stroke="#10c0ff" stroke-width="5.5" stroke-dasharray="1.4 6.3 1.8 4.1 1.2 7.7" stroke-linecap="butt" opacity=".75"/>
<use href="#rc" stroke="#00d0ff" stroke-width="3.95"/>
<use href="#rc" stroke="#40ffc0" stroke-width="3.35"/>
<use href="#rc" stroke="#b0ff50" stroke-width="2.85"/>
<use href="#rc" stroke="#fff000" stroke-width="2.4"/>
<use href="#rc" stroke="#ff9000" stroke-width="1.95"/>
<use href="#rc" stroke="#f02000" stroke-width="1.5"/>
<use href="#rc" stroke="#d00000" stroke-width="1.05"/>
<use href="#rc" stroke="#a00000" stroke-width="0.6"/>
</g></g>
<rect x="538.00" y="2.70" width="4.5" height="107.10" fill="url(#jet)"/>
<g class="cb">
<text x="545.6" y="12.7">-10</text>
<text x="545.6" y="30.9">-20</text>
<text x="545.6" y="49.1">-30</text>
<text x="545.6" y="67.3">-40</text>
<text x="545.6" y="85.5">-50</text>
<text x="545.6" y="103.7">-60</text>
</g>
</g>
<g id="panel-d">
<g class="t yt">
<text x="18.4" y="148.3">500</text>
<text x="18.4" y="158.0">400</text>
<text x="18.4" y="167.6">300</text>
<text x="18.4" y="177.3">200</text>
<text x="18.4" y="186.9">100</text>
<text x="18.4" y="196.6">0</text>
<text x="18.4" y="206.3">-100</text>
<text x="18.4" y="215.9">-200</text>
<text x="18.4" y="225.6">-300</text>
<text x="18.4" y="235.2">-400</text>
<text x="18.4" y="244.9">-500</text>
</g>
<text transform="translate(9.2 198.0) rotate(-90)" font-size="7.45" text-anchor="middle">Frequency (Hz)</text>
<g class="t xt">
<text x="29.4" y="254.8">0.5</text>
<text x="61.3" y="254.8">1.5</text>
<text x="90.8" y="254.8">2.5</text>
<text x="116.8" y="254.8">3.5</text>
<text x="144.6" y="254.8">4.5</text>
<text x="166.7" y="254.8">5.5</text>
</g>
<text x="101.5" y="263.3" font-size="7.4" text-anchor="middle">Slow time (s)</text>
<text x="97.8" y="271.7" font-size="7.5" text-anchor="middle">(d) Left Hand</text>
<rect x="26.70" y="139.10" width="143.90" height="107.20" fill="#000088"/>
<g clip-path="url(#cd)"><g filter="url(#bl)" class="ridge">
<use href="#gd" stroke="#0028f0" stroke-width="10" opacity=".22"/>
<use href="#gd" stroke="#0038ff" stroke-width="7.4" opacity=".4"/>
<use href="#rd" stroke="#0018e0" stroke-width="7.6" opacity="0.25"/>
<use href="#rd" stroke="#0028f0" stroke-width="6.3" opacity="0.6"/>
<use href="#rd" stroke="#0050ff" stroke-width="5.3"/>
<use href="#rd" stroke="#0090ff" stroke-width="4.6"/>
<path d="M106.7 145.2L104.2 169.2L109.2 169.2Z" fill="#0040f8" stroke="#0040f8" stroke-width="1.6"/>
<path d="M106.7 145.9L104.5 169.2L108.9 169.2Z" fill="#00b8ff" stroke="#00b8ff" stroke-width="0.8"/>
<path d="M106.7 150.0L104.8 169.2L108.6 169.2Z" fill="#60ffa0" stroke="#60ffa0" stroke-width="0.5"/>
<path d="M106.7 152.9L105.0 169.2L108.4 169.2Z" fill="#e8ff20" stroke="#e8ff20" stroke-width="0.3"/>
<path d="M106.7 158.4L105.3 169.2L108.1 169.2Z" fill="#ffb000" stroke="#ffb000" stroke-width="0.2"/>
<path d="M83.8 180.1V186.6" stroke="#0048f0" stroke-width="2.5" opacity="1"/>
<path d="M83.8 180.8V185.9" stroke="#00c8ff" stroke-width="1.35" opacity="1"/>
<path d="M89.5 208.5V215.0" stroke="#0048f0" stroke-width="2.5" opacity="1"/>
<path d="M89.5 209.2V214.3" stroke="#00c8ff" stroke-width="1.35" opacity="1"/>
<path d="M115.1 207.4V213.9" stroke="#0048f0" stroke-width="2.5" opacity="1"/>
<path d="M115.1 208.1V213.2" stroke="#00c8ff" stroke-width="1.35" opacity="1"/>
<path d="M116.9 183.9V189.9" stroke="#0048f0" stroke-width="2.5" opacity="1"/>
<path d="M116.9 184.6V189.2" stroke="#00c8ff" stroke-width="1.35" opacity="1"/>
<path d="M103.6 186.6V191.0" stroke="#0048f0" stroke-width="2.5" opacity="1"/>
<path d="M103.6 187.3V190.3" stroke="#00c8ff" stroke-width="1.35" opacity="1"/>
<use href="#rd" stroke="#10c0ff" stroke-width="5.5" stroke-dasharray="1.4 6.3 1.8 4.1 1.2 7.7" stroke-linecap="butt" opacity=".75"/>
<use href="#rd" stroke="#00d0ff" stroke-width="3.95"/>
<use href="#rd" stroke="#40ffc0" stroke-width="3.35"/>
<use href="#rd" stroke="#b0ff50" stroke-width="2.85"/>
<use href="#rd" stroke="#fff000" stroke-width="2.4"/>
<use href="#rd" stroke="#ff9000" stroke-width="1.95"/>
<use href="#rd" stroke="#f02000" stroke-width="1.5"/>
<use href="#rd" stroke="#d00000" stroke-width="1.05"/>
<use href="#rd" stroke="#a00000" stroke-width="0.6"/>
</g></g>
<rect x="173.10" y="139.10" width="4.5" height="107.20" fill="url(#jet)"/>
<g class="cb">
<text x="180.7" y="149.8">-10</text>
<text x="180.7" y="168.0">-20</text>
<text x="180.7" y="186.2">-30</text>
<text x="180.7" y="204.4">-40</text>
<text x="180.7" y="222.6">-50</text>
<text x="180.7" y="240.8">-60</text>
</g>
</g>
<g id="panel-e">
<g class="t yt">
<text x="200.3" y="148.0">500</text>
<text x="200.3" y="157.6">400</text>
<text x="200.3" y="167.2">300</text>
<text x="200.3" y="176.9">200</text>
<text x="200.3" y="186.5">100</text>
<text x="200.3" y="196.1">0</text>
<text x="200.3" y="205.7">-100</text>
<text x="200.3" y="215.3">-200</text>
<text x="200.3" y="225.0">-300</text>
<text x="200.3" y="234.6">-400</text>
<text x="200.3" y="244.2">-500</text>
</g>
<text transform="translate(190.8 197.5) rotate(-90)" font-size="7.45" text-anchor="middle">Frequency (Hz)</text>
<g class="t xt">
<text x="211.4" y="254.0">0.5</text>
<text x="243.4" y="254.0">1.5</text>
<text x="272.8" y="254.0">2.5</text>
<text x="298.8" y="254.0">3.5</text>
<text x="326.6" y="254.0">4.5</text>
<text x="348.7" y="254.0">5.5</text>
</g>
<text x="285.0" y="262.5" font-size="7.4" text-anchor="middle">Slow time (s)</text>
<text x="281.6" y="270.9" font-size="7.5" text-anchor="middle">(e) Right Shoulder</text>
<rect x="206.60" y="139.40" width="144.40" height="108.10" fill="#000088"/>
<g clip-path="url(#ce)"><g filter="url(#bl)" class="ridge">
<use href="#ge" stroke="#0028f0" stroke-width="10" opacity=".22"/>
<use href="#ge" stroke="#0038ff" stroke-width="7.4" opacity=".4"/>
<use href="#re" stroke="#0018e0" stroke-width="7.6" opacity="0.25"/>
<use href="#re" stroke="#0028f0" stroke-width="6.3" opacity="0.6"/>
<use href="#re" stroke="#0050ff" stroke-width="5.3"/>
<use href="#re" stroke="#0090ff" stroke-width="4.6"/>
<path d="M262.9 187.8V200.3" stroke="#0048f0" stroke-width="2.5" opacity="1"/>
<path d="M262.9 188.5V199.6" stroke="#00c8ff" stroke-width="1.35" opacity="1"/>
<path d="M283.1 184.5V199.2" stroke="#0048f0" stroke-width="2.5" opacity="1"/>
<path d="M283.1 185.2V198.5" stroke="#00c8ff" stroke-width="1.35" opacity="1"/>
<path d="M287.5 186.1V198.7" stroke="#0048f0" stroke-width="2.5" opacity="1"/>
<path d="M287.5 186.8V198.0" stroke="#00c8ff" stroke-width="1.35" opacity="1"/>
<use href="#re" stroke="#10c0ff" stroke-width="5.5" stroke-dasharray="1.4 6.3 1.8 4.1 1.2 7.7" stroke-linecap="butt" opacity=".75"/>
<use href="#re" stroke="#00d0ff" stroke-width="3.95"/>
<use href="#re" stroke="#40ffc0" stroke-width="3.35"/>
<use href="#re" stroke="#b0ff50" stroke-width="2.85"/>
<use href="#re" stroke="#fff000" stroke-width="2.4"/>
<use href="#re" stroke="#ff9000" stroke-width="1.95"/>
<use href="#re" stroke="#f02000" stroke-width="1.5"/>
<use href="#re" stroke="#d00000" stroke-width="1.05"/>
<use href="#re" stroke="#a00000" stroke-width="0.6"/>
</g></g>
<rect x="353.70" y="139.40" width="4.5" height="108.10" fill="url(#jet)"/>
<g class="cb">
<text x="361.3" y="150.1">-10</text>
<text x="361.3" y="168.3">-20</text>
<text x="361.3" y="186.5">-30</text>
<text x="361.3" y="204.7">-40</text>
<text x="361.3" y="222.9">-50</text>
<text x="361.3" y="241.1">-60</text>
</g>
</g>
<g id="panel-f">
<g class="t yt">
<text x="382.2" y="147.8">500</text>
<text x="382.2" y="157.4">400</text>
<text x="382.2" y="167.1">300</text>
<text x="382.2" y="176.7">200</text>
<text x="382.2" y="186.4">100</text>
<text x="382.2" y="196.0">0</text>
<text x="382.2" y="205.6">-100</text>
<text x="382.2" y="215.3">-200</text>
<text x="382.2" y="224.9">-300</text>
<text x="382.2" y="234.6">-400</text>
<text x="382.2" y="244.2">-500</text>
</g>
<text transform="translate(374.8 197.4) rotate(-90)" font-size="7.45" text-anchor="middle">Frequency (Hz)</text>
<g class="t xt">
<text x="393.4" y="254.0">0.5</text>
<text x="425.4" y="254.0">1.5</text>
<text x="454.8" y="254.0">2.5</text>
<text x="480.8" y="254.0">3.5</text>
<text x="508.6" y="254.0">4.5</text>
<text x="530.7" y="254.0">5.5</text>
</g>
<text x="467.0" y="262.5" font-size="7.4" text-anchor="middle">Slow time (s)</text>
<text x="464.0" y="270.9" font-size="7.5" text-anchor="middle">(f) Right Fore Arm</text>
<rect x="391.40" y="139.20" width="142.80" height="107.10" fill="#000088"/>
<g clip-path="url(#cf)"><g filter="url(#bl)" class="ridge">
<use href="#gf" stroke="#0028f0" stroke-width="10" opacity=".22"/>
<use href="#gf" stroke="#0038ff" stroke-width="7.4" opacity=".4"/>
<use href="#rf" stroke="#0018e0" stroke-width="7.6" opacity="0.25"/>
<use href="#rf" stroke="#0028f0" stroke-width="6.3" opacity="0.6"/>
<use href="#rf" stroke="#0050ff" stroke-width="5.3"/>
<use href="#rf" stroke="#0090ff" stroke-width="4.6"/>
<path d="M447.3 196.4V204.0" stroke="#0048f0" stroke-width="2.5" opacity="1"/>
<path d="M447.3 197.1V203.3" stroke="#00c8ff" stroke-width="1.35" opacity="1"/>
<path d="M467.1 186.6V204.0" stroke="#0048f0" stroke-width="2.5" opacity="1"/>
<path d="M467.1 187.3V203.3" stroke="#00c8ff" stroke-width="1.35" opacity="1"/>
<path d="M472.4 196.4V205.1" stroke="#0048f0" stroke-width="2.5" opacity="1"/>
<path d="M472.4 197.1V204.4" stroke="#00c8ff" stroke-width="1.35" opacity="1"/>
<path d="M458.7 178.4V182.2" stroke="#0048f0" stroke-width="2.5" opacity="1"/>
<path d="M458.7 179.1V181.5" stroke="#00c8ff" stroke-width="1.35" opacity="1"/>
<path d="M462.5 204.0V207.3" stroke="#0048f0" stroke-width="2.5" opacity="1"/>
<path d="M462.5 204.7V206.6" stroke="#00c8ff" stroke-width="1.35" opacity="1"/>
<path d="M479.1 203.5V207.3" stroke="#0048f0" stroke-width="2.5" opacity="1"/>
<path d="M479.1 204.2V206.6" stroke="#00c8ff" stroke-width="1.35" opacity="1"/>
<path d="M481.6 186.6V191.5" stroke="#0048f0" stroke-width="2.5" opacity="1"/>
<path d="M481.6 187.3V190.8" stroke="#00c8ff" stroke-width="1.35" opacity="1"/>
<path d="M469.1 193.1V201.9" stroke="#0048f0" stroke-width="2.5" opacity="1"/>
<path d="M469.1 193.8V201.2" stroke="#00c8ff" stroke-width="1.35" opacity="1"/>
<use href="#rf" stroke="#10c0ff" stroke-width="5.5" stroke-dasharray="1.4 6.3 1.8 4.1 1.2 7.7" stroke-linecap="butt" opacity=".75"/>
<use href="#rf" stroke="#00d0ff" stroke-width="3.95"/>
<use href="#rf" stroke="#40ffc0" stroke-width="3.35"/>
<use href="#rf" stroke="#b0ff50" stroke-width="2.85"/>
<use href="#rf" stroke="#fff000" stroke-width="2.4"/>
<use href="#rf" stroke="#ff9000" stroke-width="1.95"/>
<use href="#rf" stroke="#f02000" stroke-width="1.5"/>
<use href="#rf" stroke="#d00000" stroke-width="1.05"/>
<use href="#rf" stroke="#a00000" stroke-width="0.6"/>
</g></g>
<rect x="537.00" y="139.20" width="4.5" height="107.10" fill="url(#jet)"/>
<g class="cb">
<text x="544.6" y="149.9">-10</text>
<text x="544.6" y="168.1">-20</text>
<text x="544.6" y="186.3">-30</text>
<text x="544.6" y="204.5">-40</text>
<text x="544.6" y="222.7">-50</text>
<text x="544.6" y="240.9">-60</text>
</g>
</g>
<g id="panel-g">
<g class="t yt">
<text x="18.4" y="283.8">500</text>
<text x="18.4" y="293.4">400</text>
<text x="18.4" y="303.0">300</text>
<text x="18.4" y="312.6">200</text>
<text x="18.4" y="322.2">100</text>
<text x="18.4" y="331.9">0</text>
<text x="18.4" y="341.5">-100</text>
<text x="18.4" y="351.1">-200</text>
<text x="18.4" y="360.7">-300</text>
<text x="18.4" y="370.3">-400</text>
<text x="18.4" y="379.9">-500</text>
</g>
<text transform="translate(9.2 333.2) rotate(-90)" font-size="7.45" text-anchor="middle">Frequency (Hz)</text>
<g class="t xt">
<text x="29.4" y="390.1">0.5</text>
<text x="61.3" y="390.1">1.5</text>
<text x="90.8" y="390.1">2.5</text>
<text x="116.8" y="390.1">3.5</text>
<text x="144.6" y="390.1">4.5</text>
<text x="166.7" y="390.1">5.5</text>
</g>
<text x="101.8" y="398.6" font-size="7.4" text-anchor="middle">Slow time (s)</text>
<text x="98.0" y="407.0" font-size="7.5" text-anchor="middle">(g) Right Arm</text>
<rect x="27.00" y="275.10" width="143.60" height="107.30" fill="#000088"/>
<g clip-path="url(#cg)"><g filter="url(#bl)" class="ridge">
<use href="#gg" stroke="#0028f0" stroke-width="10" opacity=".22"/>
<use href="#gg" stroke="#0038ff" stroke-width="7.4" opacity=".4"/>
<use href="#rg" stroke="#0018e0" stroke-width="7.6" opacity="0.25"/>
<use href="#rg" stroke="#0028f0" stroke-width="6.3" opacity="0.6"/>
<use href="#rg" stroke="#0050ff" stroke-width="5.3"/>
<use href="#rg" stroke="#0090ff" stroke-width="4.6"/>
<path d="M82.9 323.4V334.3" stroke="#0048f0" stroke-width="2.5" opacity="1"/>
<path d="M82.9 324.1V333.6" stroke="#00c8ff" stroke-width="1.35" opacity="1"/>
<path d="M103.1 320.6V334.3" stroke="#0048f0" stroke-width="2.5" opacity="1"/>
<path d="M103.1 321.3V333.6" stroke="#00c8ff" stroke-width="1.35" opacity="1"/>
<path d="M107.5 324.5V337.5" stroke="#0048f0" stroke-width="2.5" opacity="1"/>
<path d="M107.5 325.2V336.8" stroke="#00c8ff" stroke-width="1.35" opacity="1"/>
<path d="M105.3 331.0V336.5" stroke="#0048f0" stroke-width="2.5" opacity="1"/>
<path d="M105.3 331.7V335.8" stroke="#00c8ff" stroke-width="1.35" opacity="1"/>
<use href="#rg" stroke="#10c0ff" stroke-width="5.5" stroke-dasharray="1.4 6.3 1.8 4.1 1.2 7.7" stroke-linecap="butt" opacity=".75"/>
<use href="#rg" stroke="#00d0ff" stroke-width="3.95"/>
<use href="#rg" stroke="#40ffc0" stroke-width="3.35"/>
<use href="#rg" stroke="#b0ff50" stroke-width="2.85"/>
<use href="#rg" stroke="#fff000" stroke-width="2.4"/>
<use href="#rg" stroke="#ff9000" stroke-width="1.95"/>
<use href="#rg" stroke="#f02000" stroke-width="1.5"/>
<use href="#rg" stroke="#d00000" stroke-width="1.05"/>
<use href="#rg" stroke="#a00000" stroke-width="0.6"/>
</g></g>
<rect x="173.10" y="275.10" width="4.5" height="107.30" fill="url(#jet)"/>
<g class="cb">
<text x="180.7" y="285.8">-10</text>
<text x="180.7" y="304.0">-20</text>
<text x="180.7" y="322.2">-30</text>
<text x="180.7" y="340.4">-40</text>
<text x="180.7" y="358.6">-50</text>
<text x="180.7" y="376.8">-60</text>
</g>
</g>
<g id="panel-h">
<g class="t yt">
<text x="200.3" y="283.8">500</text>
<text x="200.3" y="293.4">400</text>
<text x="200.3" y="303.1">300</text>
<text x="200.3" y="312.8">200</text>
<text x="200.3" y="322.4">100</text>
<text x="200.3" y="332.1">0</text>
<text x="200.3" y="341.7">-100</text>
<text x="200.3" y="351.4">-200</text>
<text x="200.3" y="361.0">-300</text>
<text x="200.3" y="370.6">-400</text>
<text x="200.3" y="380.3">-500</text>
</g>
<text transform="translate(191.1 333.4) rotate(-90)" font-size="7.45" text-anchor="middle">Frequency (Hz)</text>
<g class="t xt">
<text x="211.4" y="390.1">0.5</text>
<text x="243.4" y="390.1">1.5</text>
<text x="272.8" y="390.1">2.5</text>
<text x="298.8" y="390.1">3.5</text>
<text x="326.6" y="390.1">4.5</text>
<text x="348.7" y="390.1">5.5</text>
</g>
<text x="285.0" y="398.6" font-size="7.4" text-anchor="middle">Slow time (s)</text>
<text x="281.8" y="407.0" font-size="7.5" text-anchor="middle">(h) Right Hand</text>
<rect x="209.10" y="275.10" width="140.80" height="105.90" fill="#000088"/>
<g clip-path="url(#ch)"><g filter="url(#bl)" class="ridge">
<use href="#gh" stroke="#0028f0" stroke-width="10" opacity=".22"/>
<use href="#gh" stroke="#0038ff" stroke-width="7.4" opacity=".4"/>
<use href="#rh" stroke="#0018e0" stroke-width="7.6" opacity="0.25"/>
<use href="#rh" stroke="#0028f0" stroke-width="6.3" opacity="0.6"/>
<use href="#rh" stroke="#0050ff" stroke-width="5.3"/>
<use href="#rh" stroke="#0090ff" stroke-width="4.6"/>
<path d="M276.1 300.2V308.4" stroke="#0048f0" stroke-width="2.5" opacity="1"/>
<path d="M276.1 300.9V307.7" stroke="#00c8ff" stroke-width="1.35" opacity="1"/>
<path d="M280.9 348.7V355.3" stroke="#0048f0" stroke-width="2.5" opacity="1"/>
<path d="M280.9 349.4V354.6" stroke="#00c8ff" stroke-width="1.35" opacity="1"/>
<path d="M270.9 346.5V351.5" stroke="#0048f0" stroke-width="2.5" opacity="1"/>
<path d="M270.9 347.2V350.8" stroke="#00c8ff" stroke-width="1.35" opacity="1"/>
<path d="M295.8 339.5V343.8" stroke="#0048f0" stroke-width="2.5" opacity="1"/>
<path d="M295.8 340.2V343.1" stroke="#00c8ff" stroke-width="1.35" opacity="1"/>
<path d="M286.2 322.5V328.5" stroke="#0048f0" stroke-width="2.5" opacity="1"/>
<path d="M286.2 323.2V327.8" stroke="#00c8ff" stroke-width="1.35" opacity="1"/>
<path d="M298.0 320.4V324.7" stroke="#0048f0" stroke-width="2.5" opacity="1"/>
<path d="M298.0 321.1V324.0" stroke="#00c8ff" stroke-width="1.35" opacity="1"/>
<path d="M258.9 313.3V317.1" stroke="#0048f0" stroke-width="2.5" opacity="1"/>
<path d="M258.9 314.0V316.4" stroke="#00c8ff" stroke-width="1.35" opacity="1"/>
<use href="#rh" stroke="#10c0ff" stroke-width="5.5" stroke-dasharray="1.4 6.3 1.8 4.1 1.2 7.7" stroke-linecap="butt" opacity=".75"/>
<use href="#rh" stroke="#00d0ff" stroke-width="3.95"/>
<use href="#rh" stroke="#40ffc0" stroke-width="3.35"/>
<use href="#rh" stroke="#b0ff50" stroke-width="2.85"/>
<use href="#rh" stroke="#fff000" stroke-width="2.4"/>
<use href="#rh" stroke="#ff9000" stroke-width="1.95"/>
<use href="#rh" stroke="#f02000" stroke-width="1.5"/>
<use href="#rh" stroke="#d00000" stroke-width="1.05"/>
<use href="#rh" stroke="#a00000" stroke-width="0.6"/>
</g></g>
<rect x="352.60" y="275.10" width="4.5" height="105.90" fill="url(#jet)"/>
<g class="cb">
<text x="360.2" y="285.8">-10</text>
<text x="360.2" y="304.0">-20</text>
<text x="360.2" y="322.2">-30</text>
<text x="360.2" y="340.4">-40</text>
<text x="360.2" y="358.6">-50</text>
<text x="360.2" y="376.8">-60</text>
</g>
</g>
<g id="panel-i">
<g class="t yt">
<text x="382.2" y="283.5">500</text>
<text x="382.2" y="293.1">400</text>
<text x="382.2" y="302.8">300</text>
<text x="382.2" y="312.4">200</text>
<text x="382.2" y="322.1">100</text>
<text x="382.2" y="331.8">0</text>
<text x="382.2" y="341.4">-100</text>
<text x="382.2" y="351.1">-200</text>
<text x="382.2" y="360.7">-300</text>
<text x="382.2" y="370.4">-400</text>
<text x="382.2" y="380.0">-500</text>
</g>
<text transform="translate(374.8 333.1) rotate(-90)" font-size="7.45" text-anchor="middle">Frequency (Hz)</text>
<g class="t xt">
<text x="393.4" y="389.6">0.5</text>
<text x="425.4" y="389.6">1.5</text>
<text x="454.8" y="389.6">2.5</text>
<text x="480.8" y="389.6">3.5</text>
<text x="508.6" y="389.6">4.5</text>
<text x="530.7" y="389.6">5.5</text>
</g>
<text x="467.0" y="398.1" font-size="7.4" text-anchor="middle">Slow time (s)</text>
<text x="464.0" y="406.5" font-size="7.5" text-anchor="middle">(i) Left Up Leg</text>
<rect x="390.40" y="273.50" width="143.40" height="107.70" fill="#000088"/>
<g clip-path="url(#ci)"><g filter="url(#bl)" class="ridge">
<use href="#gi" stroke="#0028f0" stroke-width="10" opacity=".22"/>
<use href="#gi" stroke="#0038ff" stroke-width="7.4" opacity=".4"/>
<use href="#ri" stroke="#0018e0" stroke-width="7.6" opacity="0.25"/>
<use href="#ri" stroke="#0028f0" stroke-width="6.3" opacity="0.6"/>
<use href="#ri" stroke="#0050ff" stroke-width="5.3"/>
<use href="#ri" stroke="#0090ff" stroke-width="4.6"/>
<path d="M446.4 317.5V333.4" stroke="#0048f0" stroke-width="2.5" opacity="1"/>
<path d="M446.4 318.2V332.7" stroke="#00c8ff" stroke-width="1.35" opacity="1"/>
<path d="M471.5 315.9V322.5" stroke="#0048f0" stroke-width="2.5" opacity="1"/>
<path d="M471.5 316.6V321.8" stroke="#00c8ff" stroke-width="1.35" opacity="1"/>
<path d="M454.4 328.5V333.9" stroke="#0048f0" stroke-width="2.5" opacity="1"/>
<path d="M454.4 329.2V333.2" stroke="#00c8ff" stroke-width="1.35" opacity="1"/>
<path d="M457.6 330.1V333.9" stroke="#0048f0" stroke-width="2.5" opacity="0.7"/>
<path d="M457.6 330.8V333.2" stroke="#00c8ff" stroke-width="1.35" opacity="0.7"/>
<use href="#ri" stroke="#10c0ff" stroke-width="5.5" stroke-dasharray="1.4 6.3 1.8 4.1 1.2 7.7" stroke-linecap="butt" opacity=".75"/>
<use href="#ri" stroke="#00d0ff" stroke-width="3.95"/>
<use href="#ri" stroke="#40ffc0" stroke-width="3.35"/>
<use href="#ri" stroke="#b0ff50" stroke-width="2.85"/>
<use href="#ri" stroke="#fff000" stroke-width="2.4"/>
<use href="#ri" stroke="#ff9000" stroke-width="1.95"/>
<use href="#ri" stroke="#f02000" stroke-width="1.5"/>
<use href="#ri" stroke="#d00000" stroke-width="1.05"/>
<use href="#ri" stroke="#a00000" stroke-width="0.6"/>
</g></g>
<rect x="536.90" y="273.50" width="4.5" height="107.70" fill="url(#jet)"/>
<g class="cb">
<text x="544.5" y="284.2">-10</text>
<text x="544.5" y="302.4">-20</text>
<text x="544.5" y="320.6">-30</text>
<text x="544.5" y="338.8">-40</text>
<text x="544.5" y="357.0">-50</text>
<text x="544.5" y="375.2">-60</text>
</g>
</g>
<g id="panel-j">
<g class="t yt">
<text x="18.4" y="420.7">500</text>
<text x="18.4" y="430.4">400</text>
<text x="18.4" y="440.0">300</text>
<text x="18.4" y="449.7">200</text>
<text x="18.4" y="459.4">100</text>
<text x="18.4" y="469.1">0</text>
<text x="18.4" y="478.7">-100</text>
<text x="18.4" y="488.4">-200</text>
<text x="18.4" y="498.1">-300</text>
<text x="18.4" y="507.7">-400</text>
<text x="18.4" y="517.4">-500</text>
</g>
<text transform="translate(8.4 470.4) rotate(-90)" font-size="7.45" text-anchor="middle">Frequency (Hz)</text>
<g class="t xt">
<text x="29.4" y="527.7">0.5</text>
<text x="61.3" y="527.7">1.5</text>
<text x="90.8" y="527.7">2.5</text>
<text x="116.8" y="527.7">3.5</text>
<text x="144.6" y="527.7">4.5</text>
<text x="166.7" y="527.7">5.5</text>
</g>
<text x="101.8" y="536.2" font-size="7.4" text-anchor="middle">Slow time (s)</text>
<text x="98.5" y="544.6" font-size="7.5" text-anchor="middle">(j) Left Leg</text>
<rect x="26.00" y="411.20" width="145.70" height="109.30" fill="#000088"/>
<g clip-path="url(#cj)"><g filter="url(#bl)" class="ridge">
<use href="#gj" stroke="#0028f0" stroke-width="10" opacity=".22"/>
<use href="#gj" stroke="#0038ff" stroke-width="7.4" opacity=".4"/>
<use href="#rj" stroke="#0018e0" stroke-width="7.6" opacity="0.25"/>
<use href="#rj" stroke="#0028f0" stroke-width="6.3" opacity="0.6"/>
<use href="#rj" stroke="#0050ff" stroke-width="5.3"/>
<use href="#rj" stroke="#0090ff" stroke-width="4.6"/>
<path d="M82.9 456.5V471.8" stroke="#0048f0" stroke-width="2.5" opacity="1"/>
<path d="M82.9 457.2V471.1" stroke="#00c8ff" stroke-width="1.35" opacity="1"/>
<path d="M95.8 448.9L93.3 463.1L98.3 463.1Z" fill="#0040f8" stroke="#0040f8" stroke-width="1.6"/>
<path d="M95.8 449.3L93.6 463.1L98.0 463.1Z" fill="#00b8ff" stroke="#00b8ff" stroke-width="0.8"/>
<path d="M95.8 451.7L93.9 463.1L97.7 463.1Z" fill="#60ffa0" stroke="#60ffa0" stroke-width="0.5"/>
<path d="M95.8 453.4L94.1 463.1L97.5 463.1Z" fill="#e8ff20" stroke="#e8ff20" stroke-width="0.3"/>
<path d="M95.8 456.7L94.4 463.1L97.2 463.1Z" fill="#ffb000" stroke="#ffb000" stroke-width="0.2"/>
<path d="M93.8 465.3V470.7" stroke="#0048f0" stroke-width="2.5" opacity="1"/>
<path d="M93.8 466.0V470.0" stroke="#00c8ff" stroke-width="1.35" opacity="1"/>
<path d="M92.2 466.4V470.7" stroke="#0048f0" stroke-width="2.5" opacity="0.7"/>
<path d="M92.2 467.1V470.0" stroke="#00c8ff" stroke-width="1.35" opacity="0.7"/>
<path d="M122.0 458.2V463.1" stroke="#0048f0" stroke-width="2.5" opacity="1"/>
<path d="M122.0 458.9V462.4" stroke="#00c8ff" stroke-width="1.35" opacity="1"/>
<path d="M116.7 470.7V474.0" stroke="#0048f0" stroke-width="2.5" opacity="1"/>
<path d="M116.7 471.4V473.3" stroke="#00c8ff" stroke-width="1.35" opacity="1"/>
<use href="#rj" stroke="#10c0ff" stroke-width="5.5" stroke-dasharray="1.4 6.3 1.8 4.1 1.2 7.7" stroke-linecap="butt" opacity=".75"/>
<use href="#rj" stroke="#00d0ff" stroke-width="3.95"/>
<use href="#rj" stroke="#40ffc0" stroke-width="3.35"/>
<use href="#rj" stroke="#b0ff50" stroke-width="2.85"/>
<use href="#rj" stroke="#fff000" stroke-width="2.4"/>
<use href="#rj" stroke="#ff9000" stroke-width="1.95"/>
<use href="#rj" stroke="#f02000" stroke-width="1.5"/>
<use href="#rj" stroke="#d00000" stroke-width="1.05"/>
<use href="#rj" stroke="#a00000" stroke-width="0.6"/>
</g></g>
<rect x="174.70" y="411.20" width="4.5" height="109.30" fill="url(#jet)"/>
<g class="cb">
<text x="182.3" y="421.9">-10</text>
<text x="182.3" y="440.1">-20</text>
<text x="182.3" y="458.3">-30</text>
<text x="182.3" y="476.5">-40</text>
<text x="182.3" y="494.7">-50</text>
<text x="182.3" y="512.9">-60</text>
</g>
</g>
<g id="panel-k">
<g class="t yt">
<text x="200.3" y="420.7">500</text>
<text x="200.3" y="430.4">400</text>
<text x="200.3" y="440.1">300</text>
<text x="200.3" y="449.7">200</text>
<text x="200.3" y="459.4">100</text>
<text x="200.3" y="469.1">0</text>
<text x="200.3" y="478.8">-100</text>
<text x="200.3" y="488.5">-200</text>
<text x="200.3" y="498.1">-300</text>
<text x="200.3" y="507.8">-400</text>
<text x="200.3" y="517.5">-500</text>
</g>
<text transform="translate(191.1 470.5) rotate(-90)" font-size="7.45" text-anchor="middle">Frequency (Hz)</text>
<g class="t xt">
<text x="211.4" y="527.7">0.5</text>
<text x="243.4" y="527.7">1.5</text>
<text x="272.8" y="527.7">2.5</text>
<text x="298.8" y="527.7">3.5</text>
<text x="326.6" y="527.7">4.5</text>
<text x="348.7" y="527.7">5.5</text>
</g>
<text x="285.0" y="536.2" font-size="7.4" text-anchor="middle">Slow time (s)</text>
<text x="281.8" y="544.6" font-size="7.5" text-anchor="middle">(k) Left Foot</text>
<rect x="207.10" y="410.80" width="143.40" height="108.40" fill="#000088"/>
<g clip-path="url(#ck)"><g filter="url(#bl)" class="ridge">
<use href="#gk" stroke="#0028f0" stroke-width="10" opacity=".22"/>
<use href="#gk" stroke="#0038ff" stroke-width="7.4" opacity=".4"/>
<use href="#rk" stroke="#0018e0" stroke-width="7.6" opacity="0.25"/>
<use href="#rk" stroke="#0028f0" stroke-width="6.3" opacity="0.6"/>
<use href="#rk" stroke="#0050ff" stroke-width="5.3"/>
<use href="#rk" stroke="#0090ff" stroke-width="4.6"/>
<path d="M262.7 456.5V472.9" stroke="#0048f0" stroke-width="2.5" opacity="1"/>
<path d="M262.7 457.2V472.2" stroke="#00c8ff" stroke-width="1.35" opacity="1"/>
<path d="M275.5 448.4L273.0 457.6L278.0 457.6Z" fill="#0040f8" stroke="#0040f8" stroke-width="1.6"/>
<path d="M275.5 448.6L273.3 457.6L277.7 457.6Z" fill="#00b8ff" stroke="#00b8ff" stroke-width="0.8"/>
<path d="M275.5 450.2L273.6 457.6L277.4 457.6Z" fill="#60ffa0" stroke="#60ffa0" stroke-width="0.5"/>
<path d="M275.5 451.3L273.8 457.6L277.2 457.6Z" fill="#e8ff20" stroke="#e8ff20" stroke-width="0.3"/>
<path d="M275.5 453.5L274.1 457.6L276.9 457.6Z" fill="#ffb000" stroke="#ffb000" stroke-width="0.2"/>
<path d="M272.7 464.2V470.2" stroke="#0048f0" stroke-width="2.5" opacity="1"/>
<path d="M272.7 464.9V469.5" stroke="#00c8ff" stroke-width="1.35" opacity="1"/>
<path d="M288.0 472.9V478.9" stroke="#0048f0" stroke-width="2.5" opacity="1"/>
<path d="M288.0 473.6V478.2" stroke="#00c8ff" stroke-width="1.35" opacity="1"/>
<path d="M301.3 456.0V462.5" stroke="#0048f0" stroke-width="2.5" opacity="1"/>
<path d="M301.3 456.7V461.8" stroke="#00c8ff" stroke-width="1.35" opacity="1"/>
<path d="M300.2 469.6V474.5" stroke="#0048f0" stroke-width="2.5" opacity="1"/>
<path d="M300.2 470.3V473.8" stroke="#00c8ff" stroke-width="1.35" opacity="1"/>
<use href="#rk" stroke="#10c0ff" stroke-width="5.5" stroke-dasharray="1.4 6.3 1.8 4.1 1.2 7.7" stroke-linecap="butt" opacity=".75"/>
<use href="#rk" stroke="#00d0ff" stroke-width="3.95"/>
<use href="#rk" stroke="#40ffc0" stroke-width="3.35"/>
<use href="#rk" stroke="#b0ff50" stroke-width="2.85"/>
<use href="#rk" stroke="#fff000" stroke-width="2.4"/>
<use href="#rk" stroke="#ff9000" stroke-width="1.95"/>
<use href="#rk" stroke="#f02000" stroke-width="1.5"/>
<use href="#rk" stroke="#d00000" stroke-width="1.05"/>
<use href="#rk" stroke="#a00000" stroke-width="0.6"/>
</g></g>
<rect x="353.50" y="410.80" width="4.5" height="108.40" fill="url(#jet)"/>
<g class="cb">
<text x="361.1" y="421.5">-10</text>
<text x="361.1" y="439.7">-20</text>
<text x="361.1" y="457.9">-30</text>
<text x="361.1" y="476.1">-40</text>
<text x="361.1" y="494.3">-50</text>
<text x="361.1" y="512.5">-60</text>
</g>
</g>
<g id="panel-l">
<g class="t yt">
<text x="382.2" y="420.0">500</text>
<text x="382.2" y="429.6">400</text>
<text x="382.2" y="439.2">300</text>
<text x="382.2" y="448.9">200</text>
<text x="382.2" y="458.5">100</text>
<text x="382.2" y="468.1">0</text>
<text x="382.2" y="477.7">-100</text>
<text x="382.2" y="487.3">-200</text>
<text x="382.2" y="497.0">-300</text>
<text x="382.2" y="506.6">-400</text>
<text x="382.2" y="516.2">-500</text>
</g>
<text transform="translate(374.8 469.5) rotate(-90)" font-size="7.45" text-anchor="middle">Frequency (Hz)</text>
<g class="t xt">
<text x="393.4" y="526.5">0.5</text>
<text x="425.4" y="526.5">1.5</text>
<text x="454.8" y="526.5">2.5</text>
<text x="480.8" y="526.5">3.5</text>
<text x="508.6" y="526.5">4.5</text>
<text x="530.7" y="526.5">5.5</text>
</g>
<text x="467.0" y="535.0" font-size="7.4" text-anchor="middle">Slow time (s)</text>
<text x="463.8" y="543.4" font-size="7.5" text-anchor="middle">(l) Neck</text>
<rect x="390.30" y="410.10" width="144.20" height="108.40" fill="#000088"/>
<g clip-path="url(#cl)"><g filter="url(#bl)" class="ridge">
<use href="#gl" stroke="#0028f0" stroke-width="10" opacity=".22"/>
<use href="#gl" stroke="#0038ff" stroke-width="7.4" opacity=".4"/>
<use href="#rl" stroke="#0018e0" stroke-width="7.6" opacity="0.25"/>
<use href="#rl" stroke="#0028f0" stroke-width="6.3" opacity="0.6"/>
<use href="#rl" stroke="#0050ff" stroke-width="5.3"/>
<use href="#rl" stroke="#0090ff" stroke-width="4.6"/>
<path d="M446.4 458.4V470.9" stroke="#0048f0" stroke-width="2.5" opacity="1"/>
<path d="M446.4 459.1V470.2" stroke="#00c8ff" stroke-width="1.35" opacity="1"/>
<path d="M466.4 455.1V469.3" stroke="#0048f0" stroke-width="2.5" opacity="1"/>
<path d="M466.4 455.8V468.6" stroke="#00c8ff" stroke-width="1.35" opacity="1"/>
<path d="M470.7 457.3V468.2" stroke="#0048f0" stroke-width="2.5" opacity="1"/>
<path d="M470.7 458.0V467.5" stroke="#00c8ff" stroke-width="1.35" opacity="1"/>
<use href="#rl" stroke="#10c0ff" stroke-width="5.5" stroke-dasharray="1.4 6.3 1.8 4.1 1.2 7.7" stroke-linecap="butt" opacity=".75"/>
<use href="#rl" stroke="#00d0ff" stroke-width="3.95"/>
<use href="#rl" stroke="#40ffc0" stroke-width="3.35"/>
<use href="#rl" stroke="#b0ff50" stroke-width="2.85"/>
<use href="#rl" stroke="#fff000" stroke-width="2.4"/>
<use href="#rl" stroke="#ff9000" stroke-width="1.95"/>
<use href="#rl" stroke="#f02000" stroke-width="1.5"/>
<use href="#rl" stroke="#d00000" stroke-width="1.05"/>
<use href="#rl" stroke="#a00000" stroke-width="0.6"/>
</g></g>
<rect x="537.50" y="410.10" width="4.5" height="108.40" fill="url(#jet)"/>
<g class="cb">
<text x="545.1" y="420.8">-10</text>
<text x="545.1" y="439.0">-20</text>
<text x="545.1" y="457.2">-30</text>
<text x="545.1" y="475.4">-40</text>
<text x="545.1" y="493.6">-50</text>
<text x="545.1" y="511.8">-60</text>
</g>
</g>
<g id="panel-m">
<g class="t yt">
<text x="18.4" y="558.9">500</text>
<text x="18.4" y="568.6">400</text>
<text x="18.4" y="578.3">300</text>
<text x="18.4" y="588.1">200</text>
<text x="18.4" y="597.8">100</text>
<text x="18.4" y="607.5">0</text>
<text x="18.4" y="617.2">-100</text>
<text x="18.4" y="626.9">-200</text>
<text x="18.4" y="636.7">-300</text>
<text x="18.4" y="646.4">-400</text>
<text x="18.4" y="656.1">-500</text>
</g>
<text transform="translate(8.4 608.9) rotate(-90)" font-size="7.45" text-anchor="middle">Frequency (Hz)</text>
<g class="t xt">
<text x="29.4" y="666.1">0.5</text>
<text x="61.3" y="666.1">1.5</text>
<text x="90.8" y="666.1">2.5</text>
<text x="116.8" y="666.1">3.5</text>
<text x="144.6" y="666.1">4.5</text>
<text x="166.7" y="666.1">5.5</text>
</g>
<text x="101.8" y="674.6" font-size="7.4" text-anchor="middle">Slow time (s)</text>
<text x="98.3" y="683.0" font-size="7.5" text-anchor="middle">(m) Right Up Leg</text>
<rect x="26.10" y="548.60" width="145.60" height="109.00" fill="#000088"/>
<g clip-path="url(#cm)"><g filter="url(#bl)" class="ridge">
<use href="#gm" stroke="#0028f0" stroke-width="10" opacity=".22"/>
<use href="#gm" stroke="#0038ff" stroke-width="7.4" opacity=".4"/>
<use href="#rm" stroke="#0018e0" stroke-width="7.6" opacity="0.25"/>
<use href="#rm" stroke="#0028f0" stroke-width="6.3" opacity="0.6"/>
<use href="#rm" stroke="#0050ff" stroke-width="5.3"/>
<use href="#rm" stroke="#0090ff" stroke-width="4.6"/>
<path d="M83.5 594.1V609.9" stroke="#0048f0" stroke-width="2.5" opacity="1"/>
<path d="M83.5 594.8V609.2" stroke="#00c8ff" stroke-width="1.35" opacity="1"/>
<path d="M109.3 593.5V598.5" stroke="#0048f0" stroke-width="2.5" opacity="1"/>
<path d="M109.3 594.2V597.8" stroke="#00c8ff" stroke-width="1.35" opacity="1"/>
<path d="M93.8 603.9V610.5" stroke="#0048f0" stroke-width="2.5" opacity="0.8"/>
<path d="M93.8 604.6V609.8" stroke="#00c8ff" stroke-width="1.35" opacity="0.8"/>
<path d="M122.0 596.8V600.1" stroke="#0048f0" stroke-width="2.5" opacity="0.8"/>
<path d="M122.0 597.5V599.4" stroke="#00c8ff" stroke-width="1.35" opacity="0.8"/>
<use href="#rm" stroke="#10c0ff" stroke-width="5.5" stroke-dasharray="1.4 6.3 1.8 4.1 1.2 7.7" stroke-linecap="butt" opacity=".75"/>
<use href="#rm" stroke="#00d0ff" stroke-width="3.95"/>
<use href="#rm" stroke="#40ffc0" stroke-width="3.35"/>
<use href="#rm" stroke="#b0ff50" stroke-width="2.85"/>
<use href="#rm" stroke="#fff000" stroke-width="2.4"/>
<use href="#rm" stroke="#ff9000" stroke-width="1.95"/>
<use href="#rm" stroke="#f02000" stroke-width="1.5"/>
<use href="#rm" stroke="#d00000" stroke-width="1.05"/>
<use href="#rm" stroke="#a00000" stroke-width="0.6"/>
</g></g>
<rect x="174.70" y="548.60" width="4.5" height="109.00" fill="url(#jet)"/>
<g class="cb">
<text x="182.3" y="559.3">-10</text>
<text x="182.3" y="577.5">-20</text>
<text x="182.3" y="595.7">-30</text>
<text x="182.3" y="613.9">-40</text>
<text x="182.3" y="632.1">-50</text>
<text x="182.3" y="650.3">-60</text>
</g>
</g>
<g id="panel-n">
<g class="t yt">
<text x="200.3" y="556.8">500</text>
<text x="200.3" y="566.5">400</text>
<text x="200.3" y="576.1">300</text>
<text x="200.3" y="585.8">200</text>
<text x="200.3" y="595.4">100</text>
<text x="200.3" y="605.1">0</text>
<text x="200.3" y="614.7">-100</text>
<text x="200.3" y="624.4">-200</text>
<text x="200.3" y="634.0">-300</text>
<text x="200.3" y="643.7">-400</text>
<text x="200.3" y="653.3">-500</text>
</g>
<text transform="translate(191.1 606.5) rotate(-90)" font-size="7.45" text-anchor="middle">Frequency (Hz)</text>
<g class="t xt">
<text x="211.4" y="663.7">0.5</text>
<text x="243.4" y="663.7">1.5</text>
<text x="272.8" y="663.7">2.5</text>
<text x="298.8" y="663.7">3.5</text>
<text x="326.6" y="663.7">4.5</text>
<text x="348.7" y="663.7">5.5</text>
</g>
<text x="284.9" y="672.2" font-size="7.4" text-anchor="middle">Slow time (s)</text>
<text x="281.8" y="680.6" font-size="7.5" text-anchor="middle">(n) Right Leg</text>
<rect x="207.90" y="548.60" width="143.10" height="107.30" fill="#000088"/>
<g clip-path="url(#cn)"><g filter="url(#bl)" class="ridge">
<use href="#gn" stroke="#0028f0" stroke-width="10" opacity=".22"/>
<use href="#gn" stroke="#0038ff" stroke-width="7.4" opacity=".4"/>
<use href="#rn" stroke="#0018e0" stroke-width="7.6" opacity="0.25"/>
<use href="#rn" stroke="#0028f0" stroke-width="6.3" opacity="0.6"/>
<use href="#rn" stroke="#0050ff" stroke-width="5.3"/>
<use href="#rn" stroke="#0090ff" stroke-width="4.6"/>
<path d="M263.8 594.4V610.2" stroke="#0048f0" stroke-width="2.5" opacity="1"/>
<path d="M263.8 595.1V609.5" stroke="#00c8ff" stroke-width="1.35" opacity="1"/>
<path d="M277.1 591.7V597.7" stroke="#0048f0" stroke-width="2.5" opacity="1"/>
<path d="M277.1 592.4V597.0" stroke="#00c8ff" stroke-width="1.35" opacity="1"/>
<path d="M283.4 628.8L280.9 606.9L285.9 606.9Z" fill="#0040f8" stroke="#0040f8" stroke-width="1.6"/>
<path d="M283.4 628.1L281.2 606.9L285.6 606.9Z" fill="#00b8ff" stroke="#00b8ff" stroke-width="0.8"/>
<path d="M283.4 624.4L281.5 606.9L285.3 606.9Z" fill="#60ffa0" stroke="#60ffa0" stroke-width="0.5"/>
<path d="M283.4 621.8L281.7 606.9L285.1 606.9Z" fill="#e8ff20" stroke="#e8ff20" stroke-width="0.3"/>
<path d="M283.4 616.8L282.0 606.9L284.8 606.9Z" fill="#ffb000" stroke="#ffb000" stroke-width="0.2"/>
<path d="M284.9 593.3V603.7" stroke="#0048f0" stroke-width="2.5" opacity="1"/>
<path d="M284.9 594.0V603.0" stroke="#00c8ff" stroke-width="1.35" opacity="1"/>
<path d="M298.4 610.2V613.5" stroke="#0048f0" stroke-width="2.5" opacity="1"/>
<path d="M298.4 610.9V612.8" stroke="#00c8ff" stroke-width="1.35" opacity="1"/>
<path d="M299.8 597.7V601.5" stroke="#0048f0" stroke-width="2.5" opacity="1"/>
<path d="M299.8 598.4V600.8" stroke="#00c8ff" stroke-width="1.35" opacity="1"/>
<path d="M320.2 597.7V606.7" stroke="#0048f0" stroke-width="2.5" opacity="0.6"/>
<path d="M320.2 598.4V606.0" stroke="#00c8ff" stroke-width="1.35" opacity="0.6"/>
<use href="#rn" stroke="#10c0ff" stroke-width="5.5" stroke-dasharray="1.4 6.3 1.8 4.1 1.2 7.7" stroke-linecap="butt" opacity=".75"/>
<use href="#rn" stroke="#00d0ff" stroke-width="3.95"/>
<use href="#rn" stroke="#40ffc0" stroke-width="3.35"/>
<use href="#rn" stroke="#b0ff50" stroke-width="2.85"/>
<use href="#rn" stroke="#fff000" stroke-width="2.4"/>
<use href="#rn" stroke="#ff9000" stroke-width="1.95"/>
<use href="#rn" stroke="#f02000" stroke-width="1.5"/>
<use href="#rn" stroke="#d00000" stroke-width="1.05"/>
<use href="#rn" stroke="#a00000" stroke-width="0.6"/>
</g></g>
<rect x="353.90" y="548.60" width="4.5" height="107.30" fill="url(#jet)"/>
<g class="cb">
<text x="361.5" y="559.3">-10</text>
<text x="361.5" y="577.5">-20</text>
<text x="361.5" y="595.7">-30</text>
<text x="361.5" y="613.9">-40</text>
<text x="361.5" y="632.1">-50</text>
<text x="361.5" y="650.3">-60</text>
</g>
</g>
<g id="panel-o">
<g class="t yt">
<text x="382.2" y="556.8">500</text>
<text x="382.2" y="566.5">400</text>
<text x="382.2" y="576.1">300</text>
<text x="382.2" y="585.8">200</text>
<text x="382.2" y="595.4">100</text>
<text x="382.2" y="605.1">0</text>
<text x="382.2" y="614.7">-100</text>
<text x="382.2" y="624.4">-200</text>
<text x="382.2" y="634.0">-300</text>
<text x="382.2" y="643.7">-400</text>
<text x="382.2" y="653.3">-500</text>
</g>
<text transform="translate(374.8 606.5) rotate(-90)" font-size="7.45" text-anchor="middle">Frequency (Hz)</text>
<g class="t xt">
<text x="393.4" y="663.7">0.5</text>
<text x="425.4" y="663.7">1.5</text>
<text x="454.8" y="663.7">2.5</text>
<text x="480.8" y="663.7">3.5</text>
<text x="508.6" y="663.7">4.5</text>
<text x="530.7" y="663.7">5.5</text>
</g>
<text x="467.0" y="672.2" font-size="7.4" text-anchor="middle">Slow time (s)</text>
<text x="464.3" y="680.6" font-size="7.5" text-anchor="middle">(o) Right Foot</text>
<rect x="390.80" y="548.70" width="143.90" height="107.50" fill="#000088"/>
<g clip-path="url(#co)"><g filter="url(#bl)" class="ridge">
<use href="#go" stroke="#0028f0" stroke-width="10" opacity=".22"/>
<use href="#go" stroke="#0038ff" stroke-width="7.4" opacity=".4"/>
<use href="#ro" stroke="#0018e0" stroke-width="7.6" opacity="0.25"/>
<use href="#ro" stroke="#0028f0" stroke-width="6.3" opacity="0.6"/>
<use href="#ro" stroke="#0050ff" stroke-width="5.3"/>
<use href="#ro" stroke="#0090ff" stroke-width="4.6"/>
<path d="M447.1 593.5V609.4" stroke="#0048f0" stroke-width="2.5" opacity="1"/>
<path d="M447.1 594.2V608.7" stroke="#00c8ff" stroke-width="1.35" opacity="1"/>
<path d="M460.1 593.0V598.5" stroke="#0048f0" stroke-width="2.5" opacity="1"/>
<path d="M460.1 593.7V597.8" stroke="#00c8ff" stroke-width="1.35" opacity="1"/>
<path d="M467.1 593.5V602.8" stroke="#0048f0" stroke-width="2.5" opacity="1"/>
<path d="M467.1 594.2V602.1" stroke="#00c8ff" stroke-width="1.35" opacity="1"/>
<path d="M466.4 626.3L463.9 602.8L468.9 602.8Z" fill="#0040f8" stroke="#0040f8" stroke-width="1.6"/>
<path d="M466.4 625.6L464.2 602.8L468.6 602.8Z" fill="#00b8ff" stroke="#00b8ff" stroke-width="0.8"/>
<path d="M466.4 621.6L464.5 602.8L468.3 602.8Z" fill="#60ffa0" stroke="#60ffa0" stroke-width="0.5"/>
<path d="M466.4 618.8L464.7 602.8L468.1 602.8Z" fill="#e8ff20" stroke="#e8ff20" stroke-width="0.3"/>
<path d="M466.4 613.4L465.0 602.8L467.8 602.8Z" fill="#ffb000" stroke="#ffb000" stroke-width="0.2"/>
<path d="M468.5 594.6V603.4" stroke="#0048f0" stroke-width="2.5" opacity="1"/>
<path d="M468.5 595.3V602.7" stroke="#00c8ff" stroke-width="1.35" opacity="1"/>
<path d="M472.4 616.5V621.9" stroke="#0048f0" stroke-width="2.5" opacity="1"/>
<path d="M472.4 617.2V621.2" stroke="#00c8ff" stroke-width="1.35" opacity="1"/>
<path d="M482.7 613.2V616.5" stroke="#0048f0" stroke-width="2.5" opacity="1"/>
<path d="M482.7 613.9V615.8" stroke="#00c8ff" stroke-width="1.35" opacity="1"/>
<path d="M496.7 598.5V607.5" stroke="#0048f0" stroke-width="2.5" opacity="0.8"/>
<path d="M496.7 599.2V606.8" stroke="#00c8ff" stroke-width="1.35" opacity="0.8"/>
<path d="M503.9 596.1V608.4" stroke="#0048f0" stroke-width="2.5" opacity="0.8"/>
<path d="M503.9 596.8V607.7" stroke="#00c8ff" stroke-width="1.35" opacity="0.8"/>
<use href="#ro" stroke="#10c0ff" stroke-width="5.5" stroke-dasharray="1.4 6.3 1.8 4.1 1.2 7.7" stroke-linecap="butt" opacity=".75"/>
<use href="#ro" stroke="#00d0ff" stroke-width="3.95"/>
<use href="#ro" stroke="#40ffc0" stroke-width="3.35"/>
<use href="#ro" stroke="#b0ff50" stroke-width="2.85"/>
<use href="#ro" stroke="#fff000" stroke-width="2.4"/>
<use href="#ro" stroke="#ff9000" stroke-width="1.95"/>
<use href="#ro" stroke="#f02000" stroke-width="1.5"/>
<use href="#ro" stroke="#d00000" stroke-width="1.05"/>
<use href="#ro" stroke="#a00000" stroke-width="0.6"/>
</g></g>
<rect x="537.70" y="548.70" width="4.5" height="107.50" fill="url(#jet)"/>
<g class="cb">
<text x="545.3" y="559.4">-10</text>
<text x="545.3" y="577.6">-20</text>
<text x="545.3" y="595.8">-30</text>
<text x="545.3" y="614.0">-40</text>
<text x="545.3" y="632.2">-50</text>
<text x="545.3" y="650.4">-60</text>
</g>
</g>
<g id="panel-p">
<g class="t yt">
<text x="198.4" y="692.8">500</text>
<text x="198.4" y="702.4">400</text>
<text x="198.4" y="712.1">300</text>
<text x="198.4" y="721.7">200</text>
<text x="198.4" y="731.3">100</text>
<text x="198.4" y="741.0">0</text>
<text x="198.4" y="750.6">-100</text>
<text x="198.4" y="760.2">-200</text>
<text x="198.4" y="769.8">-300</text>
<text x="198.4" y="779.5">-400</text>
<text x="198.4" y="789.1">-500</text>
</g>
<text transform="translate(188.8 742.4) rotate(-90)" font-size="7.45" text-anchor="middle">Frequency (Hz)</text>
<g class="t xt">
<text x="209.4" y="799.1">0.5</text>
<text x="241.4" y="799.1">1.5</text>
<text x="270.8" y="799.1">2.5</text>
<text x="296.8" y="799.1">3.5</text>
<text x="324.6" y="799.1">4.5</text>
<text x="346.6" y="799.1">5.5</text>
</g>
<text x="282.8" y="807.6" font-size="7.4" text-anchor="middle">Slow time (s)</text>
<text x="280.1" y="816.0" font-size="7.5" text-anchor="middle">(p) Spine</text>
<rect x="206.70" y="684.30" width="144.70" height="107.50" fill="#000088"/>
<g clip-path="url(#cp)"><g filter="url(#bl)" class="ridge">
<use href="#gp" stroke="#0028f0" stroke-width="10" opacity=".22"/>
<use href="#gp" stroke="#0038ff" stroke-width="7.4" opacity=".4"/>
<use href="#rp" stroke="#0018e0" stroke-width="7.6" opacity="0.25"/>
<use href="#rp" stroke="#0028f0" stroke-width="6.3" opacity="0.6"/>
<use href="#rp" stroke="#0050ff" stroke-width="5.3"/>
<use href="#rp" stroke="#0090ff" stroke-width="4.6"/>
<path d="M263.5 730.5V743.6" stroke="#0048f0" stroke-width="2.5" opacity="1"/>
<path d="M263.5 731.2V742.9" stroke="#00c8ff" stroke-width="1.35" opacity="1"/>
<path d="M288.9 728.8V733.8" stroke="#0048f0" stroke-width="2.5" opacity="1"/>
<path d="M288.9 729.5V733.1" stroke="#00c8ff" stroke-width="1.35" opacity="1"/>
<path d="M273.8 739.8V745.8" stroke="#0048f0" stroke-width="2.5" opacity="0.6"/>
<path d="M273.8 740.5V745.1" stroke="#00c8ff" stroke-width="1.35" opacity="0.6"/>
<path d="M282.3 743.0V746.3" stroke="#0048f0" stroke-width="2.5" opacity="0.6"/>
<path d="M282.3 743.7V745.6" stroke="#00c8ff" stroke-width="1.35" opacity="0.6"/>
<use href="#rp" stroke="#10c0ff" stroke-width="5.5" stroke-dasharray="1.4 6.3 1.8 4.1 1.2 7.7" stroke-linecap="butt" opacity=".75"/>
<use href="#rp" stroke="#00d0ff" stroke-width="3.95"/>
<use href="#rp" stroke="#40ffc0" stroke-width="3.35"/>
<use href="#rp" stroke="#b0ff50" stroke-width="2.85"/>
<use href="#rp" stroke="#fff000" stroke-width="2.4"/>
<use href="#rp" stroke="#ff9000" stroke-width="1.95"/>
<use href="#rp" stroke="#f02000" stroke-width="1.5"/>
<use href="#rp" stroke="#d00000" stroke-width="1.05"/>
<use href="#rp" stroke="#a00000" stroke-width="0.6"/>
</g></g>
<rect x="354.30" y="684.30" width="4.5" height="107.50" fill="url(#jet)"/>
<g class="cb">
<text x="361.9" y="695.0">-10</text>
<text x="361.9" y="713.2">-20</text>
<text x="361.9" y="731.4">-30</text>
<text x="361.9" y="749.6">-40</text>
<text x="361.9" y="767.8">-50</text>
<text x="361.9" y="786.0">-60</text>
</g>
</g>
</svg></body></html>
